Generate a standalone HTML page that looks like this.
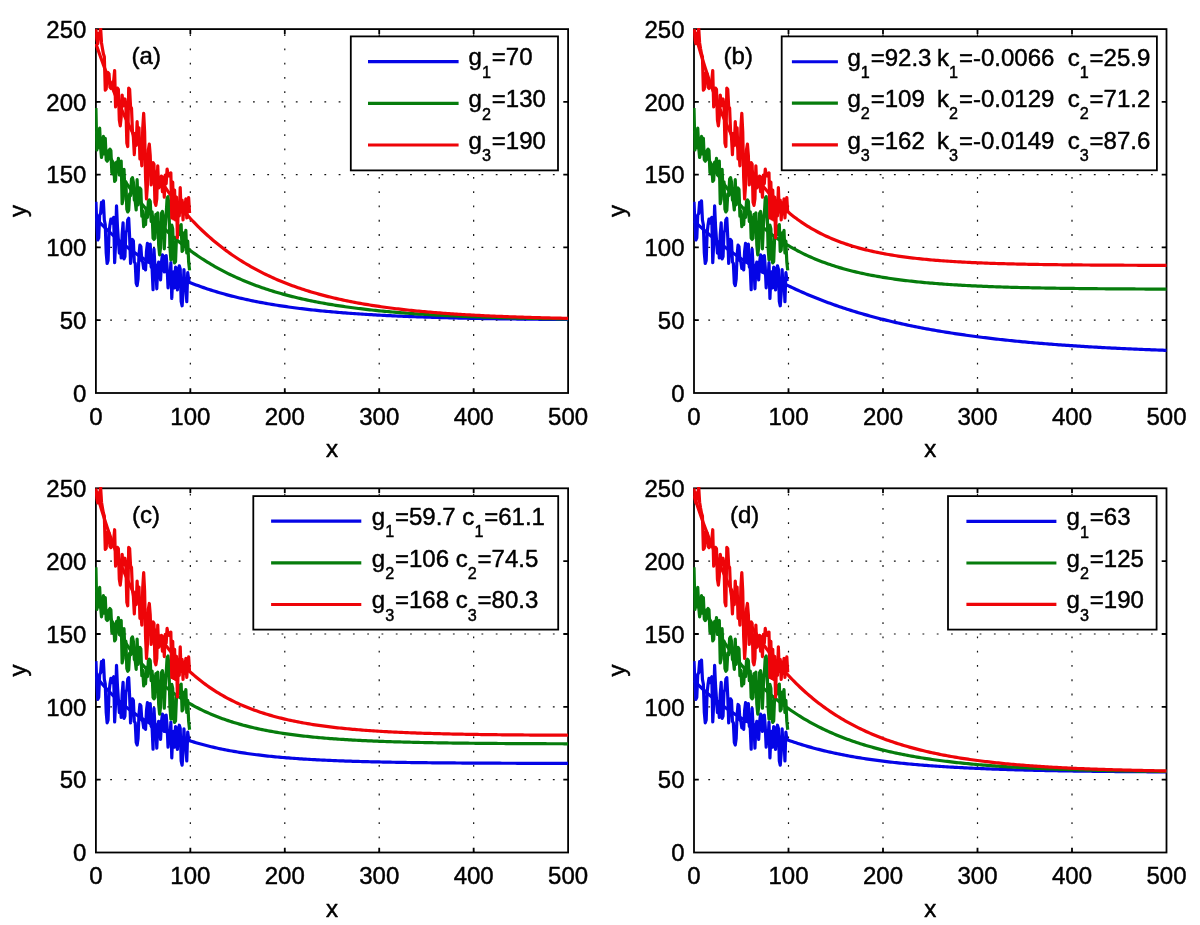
<!DOCTYPE html>
<html><head><meta charset="utf-8"><title>fit</title>
<style>
html,body{margin:0;padding:0;background:#fff}
svg{display:block}
text{font-family:"Liberation Sans",Arial,Helvetica,sans-serif;font-size:24.0px;fill:#000;stroke:#000;stroke-width:0.45px;stroke-linejoin:round}
.gr{stroke:#111;stroke-width:1.2;stroke-dasharray:1.8 12.48;fill:none}
.ax{stroke:#000;stroke-width:1.8;fill:none}
.lg{stroke:#000;stroke-width:1.8;fill:#fff}
.tk{stroke:#000;stroke-width:1.8;fill:none}
.cv{fill:none;stroke-width:3.2;stroke-linejoin:round;stroke-linecap:butt}
</style></head><body>
<svg width="1200" height="925" viewBox="0 0 1200 925">
<rect width="1200" height="925" fill="#fff"/>
<defs>
<clipPath id="cpa"><rect x="95.1" y="27.9" width="473.8" height="366.3"/></clipPath>
<clipPath id="cpb"><rect x="693.2" y="27.9" width="474.1" height="366.3"/></clipPath>
<clipPath id="cpc"><rect x="95.1" y="487.1" width="473.8" height="366.6"/></clipPath>
<clipPath id="cpd"><rect x="693.2" y="487.1" width="474.1" height="366.6"/></clipPath>
</defs>
<g>
<line x1="190.34" y1="393" x2="190.34" y2="29.1" class="gr"/>
<line x1="284.78" y1="393" x2="284.78" y2="29.1" class="gr"/>
<line x1="379.22" y1="393" x2="379.22" y2="29.1" class="gr"/>
<line x1="473.66" y1="393" x2="473.66" y2="29.1" class="gr"/>
<line x1="95.9" y1="320.22" x2="568.1" y2="320.22" class="gr"/>
<line x1="95.9" y1="247.44" x2="568.1" y2="247.44" class="gr"/>
<line x1="95.9" y1="174.66" x2="568.1" y2="174.66" class="gr"/>
<line x1="95.9" y1="101.88" x2="568.1" y2="101.88" class="gr"/>
<rect x="95.9" y="29.1" width="472.2" height="363.9" class="ax"/>
<path d="M190.34 393v-4.8M190.34 29.1v4.8" class="tk"/>
<path d="M284.78 393v-4.8M284.78 29.1v4.8" class="tk"/>
<path d="M379.22 393v-4.8M379.22 29.1v4.8" class="tk"/>
<path d="M473.66 393v-4.8M473.66 29.1v4.8" class="tk"/>
<path d="M95.9 320.22h4.8M568.1 320.22h-4.8" class="tk"/>
<path d="M95.9 247.44h4.8M568.1 247.44h-4.8" class="tk"/>
<path d="M95.9 174.66h4.8M568.1 174.66h-4.8" class="tk"/>
<path d="M95.9 101.88h4.8M568.1 101.88h-4.8" class="tk"/>
<g clip-path="url(#cpa)">
<polyline points="95.9,218.33 97.79,220.35 99.68,222.32 101.57,224.26 103.46,226.16 105.34,228.02 107.23,229.85 109.12,231.64 111.01,233.39 112.9,235.11 114.79,236.8 116.68,238.45 118.57,240.07 120.45,241.66 122.34,243.21 124.23,244.74 126.12,246.23 128.01,247.7 129.9,249.13 131.79,250.54 133.68,251.92 135.56,253.27 137.45,254.6 139.34,255.9 141.23,257.17 143.12,258.42 145.01,259.64 146.9,260.84 148.79,262.02 150.68,263.17 152.56,264.3 154.45,265.41 156.34,266.49 158.23,267.56 160.12,268.6 162.01,269.62 163.9,270.62 165.79,271.61 167.67,272.57 169.56,273.51 171.45,274.44 173.34,275.34 175.23,276.23 177.12,277.1 179.01,277.96 180.9,278.79 182.78,279.61 184.67,280.42 186.56,281.21 188.45,281.98 190.34,282.74 192.23,283.48 194.12,284.21 196.01,284.92 197.9,285.62 199.78,286.3 201.67,286.97 203.56,287.63 205.45,288.28 207.34,288.91 209.23,289.53 211.12,290.14 213.01,290.73 214.89,291.32 216.78,291.89 218.67,292.45 220.56,293 222.45,293.54 224.34,294.07 226.23,294.59 228.12,295.09 230,295.59 231.89,296.08 233.78,296.56 235.67,297.03 237.56,297.48 239.45,297.94 241.34,298.38 243.23,298.81 245.12,299.23 247,299.65 248.89,300.06 250.78,300.45 252.67,300.85 254.56,301.23 256.45,301.61 258.34,301.97 260.23,302.34 262.11,302.69 264,303.04 265.89,303.38 267.78,303.71 269.67,304.04 271.56,304.36 273.45,304.67 275.34,304.98 277.22,305.28 279.11,305.58 281,305.87 282.89,306.15 284.78,306.43 286.67,306.7 288.56,306.97 290.45,307.23 292.34,307.49 294.22,307.74 296.11,307.99 298,308.23 299.89,308.47 301.78,308.7 303.67,308.93 305.56,309.15 307.45,309.37 309.33,309.59 311.22,309.8 313.11,310 315,310.21 316.89,310.4 318.78,310.6 320.67,310.79 322.56,310.98 324.44,311.16 326.33,311.34 328.22,311.51 330.11,311.69 332,311.86 333.89,312.02 335.78,312.18 337.67,312.34 339.56,312.5 341.44,312.65 343.33,312.8 345.22,312.95 347.11,313.09 349,313.23 350.89,313.37 352.78,313.51 354.67,313.64 356.55,313.77 358.44,313.9 360.33,314.02 362.22,314.15 364.11,314.27 366,314.38 367.89,314.5 369.78,314.61 371.66,314.72 373.55,314.83 375.44,314.94 377.33,315.04 379.22,315.15 381.11,315.25 383,315.35 384.89,315.44 386.78,315.54 388.66,315.63 390.55,315.72 392.44,315.81 394.33,315.9 396.22,315.98 398.11,316.07 400,316.15 401.89,316.23 403.77,316.31 405.66,316.39 407.55,316.46 409.44,316.54 411.33,316.61 413.22,316.68 415.11,316.75 417,316.82 418.88,316.89 420.77,316.95 422.66,317.02 424.55,317.08 426.44,317.14 428.33,317.2 430.22,317.26 432.11,317.32 434,317.38 435.88,317.44 437.77,317.49 439.66,317.55 441.55,317.6 443.44,317.65 445.33,317.7 447.22,317.75 449.11,317.8 450.99,317.85 452.88,317.89 454.77,317.94 456.66,317.99 458.55,318.03 460.44,318.07 462.33,318.12 464.22,318.16 466.1,318.2 467.99,318.24 469.88,318.28 471.77,318.32 473.66,318.35 475.55,318.39 477.44,318.43 479.33,318.46 481.22,318.5 483.1,318.53 484.99,318.56 486.88,318.6 488.77,318.63 490.66,318.66 492.55,318.69 494.44,318.72 496.33,318.75 498.21,318.78 500.1,318.81 501.99,318.84 503.88,318.86 505.77,318.89 507.66,318.92 509.55,318.94 511.44,318.97 513.32,318.99 515.21,319.02 517.1,319.04 518.99,319.07 520.88,319.09 522.77,319.11 524.66,319.13 526.55,319.15 528.44,319.18 530.32,319.2 532.21,319.22 534.1,319.24 535.99,319.26 537.88,319.27 539.77,319.29 541.66,319.31 543.55,319.33 545.43,319.35 547.32,319.36 549.21,319.38 551.1,319.4 552.99,319.41 554.88,319.43 556.77,319.45 558.66,319.46 560.54,319.48 562.43,319.49 564.32,319.51 566.21,319.52 568.1,319.53" class="cv" stroke="#0505e6"/>
<polyline points="95.9,130.99 97.79,134.74 99.68,138.41 101.57,142.01 103.46,145.54 105.34,149 107.23,152.39 109.12,155.71 111.01,158.97 112.9,162.16 114.79,165.29 116.68,168.36 118.57,171.37 120.45,174.32 122.34,177.2 124.23,180.04 126.12,182.81 128.01,185.53 129.9,188.2 131.79,190.81 133.68,193.38 135.56,195.89 137.45,198.35 139.34,200.76 141.23,203.13 143.12,205.45 145.01,207.72 146.9,209.95 148.79,212.13 150.68,214.27 152.56,216.37 154.45,218.43 156.34,220.44 158.23,222.42 160.12,224.35 162.01,226.25 163.9,228.11 165.79,229.94 167.67,231.72 169.56,233.48 171.45,235.19 173.34,236.88 175.23,238.53 177.12,240.15 179.01,241.73 180.9,243.29 182.78,244.81 184.67,246.3 186.56,247.77 188.45,249.2 190.34,250.61 192.23,251.99 194.12,253.34 196.01,254.66 197.9,255.96 199.78,257.23 201.67,258.48 203.56,259.7 205.45,260.9 207.34,262.07 209.23,263.23 211.12,264.35 213.01,265.46 214.89,266.54 216.78,267.61 218.67,268.65 220.56,269.67 222.45,270.67 224.34,271.65 226.23,272.61 228.12,273.56 230,274.48 231.89,275.39 233.78,276.27 235.67,277.14 237.56,278 239.45,278.83 241.34,279.65 243.23,280.46 245.12,281.24 247,282.02 248.89,282.77 250.78,283.51 252.67,284.24 254.56,284.95 256.45,285.65 258.34,286.34 260.23,287.01 262.11,287.66 264,288.31 265.89,288.94 267.78,289.56 269.67,290.17 271.56,290.76 273.45,291.35 275.34,291.92 277.22,292.48 279.11,293.03 281,293.57 282.89,294.09 284.78,294.61 286.67,295.12 288.56,295.61 290.45,296.1 292.34,296.58 294.22,297.05 296.11,297.51 298,297.96 299.89,298.4 301.78,298.83 303.67,299.25 305.56,299.67 307.45,300.08 309.33,300.47 311.22,300.86 313.11,301.25 315,301.62 316.89,301.99 318.78,302.35 320.67,302.71 322.56,303.05 324.44,303.39 326.33,303.73 328.22,304.05 330.11,304.37 332,304.69 333.89,304.99 335.78,305.3 337.67,305.59 339.56,305.88 341.44,306.17 343.33,306.44 345.22,306.72 347.11,306.98 349,307.25 350.89,307.5 352.78,307.75 354.67,308 356.55,308.24 358.44,308.48 360.33,308.71 362.22,308.94 364.11,309.16 366,309.38 367.89,309.6 369.78,309.81 371.66,310.01 373.55,310.22 375.44,310.41 377.33,310.61 379.22,310.8 381.11,310.99 383,311.17 384.89,311.35 386.78,311.52 388.66,311.7 390.55,311.86 392.44,312.03 394.33,312.19 396.22,312.35 398.11,312.51 400,312.66 401.89,312.81 403.77,312.96 405.66,313.1 407.55,313.24 409.44,313.38 411.33,313.51 413.22,313.65 415.11,313.78 417,313.9 418.88,314.03 420.77,314.15 422.66,314.27 424.55,314.39 426.44,314.51 428.33,314.62 430.22,314.73 432.11,314.84 434,314.95 435.88,315.05 437.77,315.15 439.66,315.25 441.55,315.35 443.44,315.45 445.33,315.54 447.22,315.63 449.11,315.73 450.99,315.81 452.88,315.9 454.77,315.99 456.66,316.07 458.55,316.15 460.44,316.23 462.33,316.31 464.22,316.39 466.1,316.47 467.99,316.54 469.88,316.61 471.77,316.68 473.66,316.75 475.55,316.82 477.44,316.89 479.33,316.96 481.22,317.02 483.1,317.08 484.99,317.15 486.88,317.21 488.77,317.27 490.66,317.33 492.55,317.38 494.44,317.44 496.33,317.49 498.21,317.55 500.1,317.6 501.99,317.65 503.88,317.7 505.77,317.75 507.66,317.8 509.55,317.85 511.44,317.9 513.32,317.94 515.21,317.99 517.1,318.03 518.99,318.08 520.88,318.12 522.77,318.16 524.66,318.2 526.55,318.24 528.44,318.28 530.32,318.32 532.21,318.36 534.1,318.39 535.99,318.43 537.88,318.46 539.77,318.5 541.66,318.53 543.55,318.57 545.43,318.6 547.32,318.63 549.21,318.66 551.1,318.69 552.99,318.72 554.88,318.75 556.77,318.78 558.66,318.81 560.54,318.84 562.43,318.87 564.32,318.89 566.21,318.92 568.1,318.94" class="cv" stroke="#067c0c"/>
<polyline points="95.9,43.66 97.79,49.13 99.68,54.5 101.57,59.76 103.46,64.92 105.34,69.97 107.23,74.93 109.12,79.79 111.01,84.55 112.9,89.21 114.79,93.79 116.68,98.27 118.57,102.67 120.45,106.97 122.34,111.2 124.23,115.34 126.12,119.39 128.01,123.37 129.9,127.27 131.79,131.09 133.68,134.83 135.56,138.5 137.45,142.1 139.34,145.63 141.23,149.09 143.12,152.48 145.01,155.8 146.9,159.05 148.79,162.24 150.68,165.37 152.56,168.44 154.45,171.44 156.34,174.39 158.23,177.28 160.12,180.11 162.01,182.88 163.9,185.6 165.79,188.27 167.67,190.88 169.56,193.44 171.45,195.95 173.34,198.41 175.23,200.82 177.12,203.19 179.01,205.51 180.9,207.78 182.78,210 184.67,212.19 186.56,214.33 188.45,216.42 190.34,218.48 192.23,220.49 194.12,222.47 196.01,224.4 197.9,226.3 199.78,228.16 201.67,229.98 203.56,231.77 205.45,233.52 207.34,235.24 209.23,236.92 211.12,238.57 213.01,240.19 214.89,241.77 216.78,243.32 218.67,244.85 220.56,246.34 222.45,247.8 224.34,249.24 226.23,250.64 228.12,252.02 230,253.37 231.89,254.69 233.78,255.99 235.67,257.26 237.56,258.51 239.45,259.73 241.34,260.93 243.23,262.1 245.12,263.25 247,264.38 248.89,265.49 250.78,266.57 252.67,267.63 254.56,268.68 256.45,269.7 258.34,270.7 260.23,271.68 262.11,272.64 264,273.58 265.89,274.5 267.78,275.41 269.67,276.3 271.56,277.17 273.45,278.02 275.34,278.85 277.22,279.67 279.11,280.48 281,281.26 282.89,282.04 284.78,282.79 286.67,283.53 288.56,284.26 290.45,284.97 292.34,285.67 294.22,286.35 296.11,287.02 298,287.68 299.89,288.33 301.78,288.96 303.67,289.58 305.56,290.18 307.45,290.78 309.33,291.36 311.22,291.93 313.11,292.49 315,293.04 316.89,293.58 318.78,294.11 320.67,294.62 322.56,295.13 324.44,295.63 326.33,296.11 328.22,296.59 330.11,297.06 332,297.52 333.89,297.97 335.78,298.41 337.67,298.84 339.56,299.26 341.44,299.68 343.33,300.09 345.22,300.48 347.11,300.87 349,301.26 350.89,301.63 352.78,302 354.67,302.36 356.55,302.72 358.44,303.06 360.33,303.4 362.22,303.74 364.11,304.06 366,304.38 367.89,304.7 369.78,305 371.66,305.3 373.55,305.6 375.44,305.89 377.33,306.17 379.22,306.45 381.11,306.72 383,306.99 384.89,307.25 386.78,307.51 388.66,307.76 390.55,308.01 392.44,308.25 394.33,308.49 396.22,308.72 398.11,308.95 400,309.17 401.89,309.39 403.77,309.6 405.66,309.81 407.55,310.02 409.44,310.22 411.33,310.42 413.22,310.61 415.11,310.8 417,310.99 418.88,311.17 420.77,311.35 422.66,311.53 424.55,311.7 426.44,311.87 428.33,312.03 430.22,312.2 432.11,312.35 434,312.51 435.88,312.66 437.77,312.81 439.66,312.96 441.55,313.1 443.44,313.24 445.33,313.38 447.22,313.52 449.11,313.65 450.99,313.78 452.88,313.91 454.77,314.03 456.66,314.16 458.55,314.28 460.44,314.39 462.33,314.51 464.22,314.62 466.1,314.73 467.99,314.84 469.88,314.95 471.77,315.05 473.66,315.15 475.55,315.25 477.44,315.35 479.33,315.45 481.22,315.54 483.1,315.64 484.99,315.73 486.88,315.82 488.77,315.9 490.66,315.99 492.55,316.07 494.44,316.15 496.33,316.24 498.21,316.31 500.1,316.39 501.99,316.47 503.88,316.54 505.77,316.61 507.66,316.69 509.55,316.76 511.44,316.82 513.32,316.89 515.21,316.96 517.1,317.02 518.99,317.09 520.88,317.15 522.77,317.21 524.66,317.27 526.55,317.33 528.44,317.38 530.32,317.44 532.21,317.5 534.1,317.55 535.99,317.6 537.88,317.65 539.77,317.7 541.66,317.75 543.55,317.8 545.43,317.85 547.32,317.9 549.21,317.94 551.1,317.99 552.99,318.03 554.88,318.08 556.77,318.12 558.66,318.16 560.54,318.2 562.43,318.24 564.32,318.28 566.21,318.32 568.1,318.36" class="cv" stroke="#ee0408"/>
<polyline points="95.9,201.8 96.84,225.61 97.77,240 98.71,237.92 99.65,215 100.58,213.54 101.52,202.26 102.46,211.96 103.39,200.8 104.33,219.99 105.27,224.7 106.21,252.96 107.14,263.5 108.08,260.52 109.02,233.24 109.95,224.7 110.89,219.01 111.83,223.24 112.76,218.86 113.7,217.4 114.64,262.6 115.57,243.99 116.51,205.9 117.45,226.61 118.38,240 119.32,253.2 120.26,242.58 121.19,258 122.13,234.98 123.07,222.9 124.01,258.9 124.94,256.66 125.88,232 126.82,230.54 127.75,219.76 128.69,218.3 129.63,237.06 130.56,263.5 131.5,243.53 132.44,239.5 133.37,240.96 134.31,262 135.25,263.46 136.18,283.11 137.12,285.6 138.06,279.12 138.99,254.73 139.93,245.1 140.87,246.56 141.81,260.54 142.74,262 143.68,268.44 144.62,263.46 145.55,269.9 146.49,251.11 147.43,243.3 148.36,262 149.3,258.49 150.24,244.2 151.17,266.69 152.11,268.57 153.05,289.7 153.98,249 154.92,266.08 155.86,265.19 156.79,288.8 157.73,267.31 158.67,262 159.61,263.46 160.54,280 161.48,262.27 162.42,254.8 163.35,256.26 164.29,272 165.23,257.16 166.16,255.7 167.1,267.14 168.04,287.8 168.97,273.1 169.91,280.42 170.85,262.6 171.78,298.4 172.72,275.87 173.66,272 174.59,287.8 175.53,267.2 176.47,268.66 177.41,290 178.34,270.88 179.28,265.8 180.22,268.85 181.15,301.47 182.09,305.8 183.03,293.72 183.96,269.5 184.9,288.54 185.84,280.2 186.77,301.6 187.71,272.7 188.65,279.54 189.58,281" class="cv" stroke="#0505e6"/>
<polyline points="95.9,108 96.84,150 97.77,130.24 98.71,147.68 99.65,128 100.58,147.25 101.52,157.5 102.46,151.7 103.39,136.4 104.33,153.96 105.27,138.32 106.21,159.74 107.14,161.2 108.08,159.74 109.02,150.66 109.95,149.2 110.89,150.66 111.83,172.54 112.76,174 113.7,165 114.64,181.5 115.57,180.04 116.51,162.15 117.45,171.64 118.38,158.4 119.32,175 120.26,162.66 121.19,161.2 122.13,203.6 123.07,199.26 124.01,169.4 124.94,192.39 125.88,181.85 126.82,209.2 127.75,211.9 128.69,210.44 129.63,193.86 130.56,195.56 131.5,179.06 132.44,177.6 133.37,181.99 134.31,200 135.25,201.46 136.18,210 137.12,179.7 138.06,205 138.99,189.46 139.93,188 140.87,189.46 141.81,216.24 142.74,210.87 143.68,226.6 144.62,217.94 145.55,224.57 146.49,208.04 147.43,217.3 148.36,201.36 149.3,199.9 150.24,201.36 151.17,221.34 152.11,211.79 153.05,238.04 153.98,239.5 154.92,238.04 155.86,214.26 156.79,230.2 157.73,212.8 158.67,244.76 159.61,254.8 160.54,247.45 161.48,213.22 162.42,211.4 163.35,217.63 164.29,248.8 165.23,226.48 166.16,215 167.1,198.16 168.04,196.7 168.97,207.43 169.91,246.83 170.85,259.8 171.78,225 172.72,228.99 173.66,258.65 174.59,263 175.53,261.54 176.47,237.46 177.41,236 178.34,226.16 179.28,234.54 180.22,226.16 181.15,224.7 182.09,251.5 183.03,250.04 183.96,232.84 184.9,244.6 185.84,230.3 186.77,252.97 187.71,241.06 188.65,262 189.58,270.4" class="cv" stroke="#067c0c"/>
<polyline points="95.9,29.1 96.84,39.29 97.77,43.66 98.71,33.47 99.65,36.38 100.58,27.64 101.52,42.93 102.46,48.75 103.39,53.85 104.33,56.76 105.27,90.24 106.21,88.78 107.14,73.96 108.08,72.5 109.02,73.96 109.95,87.04 110.89,88.5 111.83,87.04 112.76,82 113.7,80.54 114.64,70.5 115.57,107 116.51,93.01 117.45,88 118.38,89.46 119.32,120.06 120.26,125.8 121.19,117.02 122.13,95 123.07,106 124.01,100.46 124.94,99 125.88,105.95 126.82,143.07 127.75,146.5 128.69,88 129.63,89.46 130.56,106.54 131.5,108 132.44,131 133.37,137.04 134.31,154.7 135.25,133.23 136.18,145.41 137.12,121.7 138.06,139.91 138.99,127.85 139.93,158.98 140.87,152 141.81,165.8 142.74,127.95 143.68,113.4 144.62,131.89 145.55,177.73 146.49,199 147.43,185.4 148.36,149.78 149.3,144.2 150.24,155.69 151.17,185 152.11,164.06 153.05,162.6 153.98,164.06 154.92,202.36 155.86,205.4 156.79,198.82 157.73,165.8 158.67,188 159.61,177.46 160.54,186.54 161.48,176 162.42,191.7 163.35,177.46 164.29,197.2 165.23,175.02 166.16,183.77 167.1,169.1 168.04,174.54 168.97,176 169.91,174.54 170.85,172.8 171.78,218 172.72,182 173.66,219 174.59,190 175.53,220 176.47,197 177.41,237.6 178.34,203 179.28,216 180.22,187.5 181.15,212 182.09,200 183.03,220 183.96,203 184.9,214 185.84,198.9 186.77,218 187.71,205 188.65,197.5 189.58,213" class="cv" stroke="#ee0408"/>
</g>
<text x="95.9" y="424.5" text-anchor="middle">0</text>
<text x="190.34" y="424.5" text-anchor="middle">100</text>
<text x="284.78" y="424.5" text-anchor="middle">200</text>
<text x="379.22" y="424.5" text-anchor="middle">300</text>
<text x="473.66" y="424.5" text-anchor="middle">400</text>
<text x="568.1" y="424.5" text-anchor="middle">500</text>
<text x="86.4" y="401.8" text-anchor="end">0</text>
<text x="86.4" y="329.02" text-anchor="end">50</text>
<text x="86.4" y="256.24" text-anchor="end">100</text>
<text x="86.4" y="183.46" text-anchor="end">150</text>
<text x="86.4" y="110.68" text-anchor="end">200</text>
<text x="86.4" y="37.9" text-anchor="end">250</text>
<text x="332" y="457.1" text-anchor="middle">x</text>
<text transform="translate(26.4 211.05) rotate(-90)" text-anchor="middle">y</text>
</g>
<g>
<line x1="788.5" y1="393" x2="788.5" y2="29.1" class="gr"/>
<line x1="883" y1="393" x2="883" y2="29.1" class="gr"/>
<line x1="977.5" y1="393" x2="977.5" y2="29.1" class="gr"/>
<line x1="1072" y1="393" x2="1072" y2="29.1" class="gr"/>
<line x1="694" y1="320.22" x2="1166.5" y2="320.22" class="gr"/>
<line x1="694" y1="247.44" x2="1166.5" y2="247.44" class="gr"/>
<line x1="694" y1="174.66" x2="1166.5" y2="174.66" class="gr"/>
<line x1="694" y1="101.88" x2="1166.5" y2="101.88" class="gr"/>
<rect x="694" y="29.1" width="472.5" height="363.9" class="ax"/>
<path d="M788.5 393v-4.8M788.5 29.1v4.8" class="tk"/>
<path d="M883 393v-4.8M883 29.1v4.8" class="tk"/>
<path d="M977.5 393v-4.8M977.5 29.1v4.8" class="tk"/>
<path d="M1072 393v-4.8M1072 29.1v4.8" class="tk"/>
<path d="M694 320.22h4.8M1166.5 320.22h-4.8" class="tk"/>
<path d="M694 247.44h4.8M1166.5 247.44h-4.8" class="tk"/>
<path d="M694 174.66h4.8M1166.5 174.66h-4.8" class="tk"/>
<path d="M694 101.88h4.8M1166.5 101.88h-4.8" class="tk"/>
<g clip-path="url(#cpb)">
<polyline points="694,220.95 695.89,222.71 697.78,224.45 699.67,226.16 701.56,227.86 703.45,229.53 705.34,231.18 707.23,232.81 709.12,234.41 711.01,236 712.9,237.56 714.79,239.11 716.68,240.63 718.57,242.13 720.46,243.62 722.35,245.08 724.24,246.53 726.13,247.95 728.02,249.36 729.91,250.75 731.8,252.12 733.69,253.47 735.58,254.81 737.47,256.13 739.36,257.43 741.25,258.71 743.14,259.98 745.03,261.23 746.92,262.46 748.81,263.68 750.7,264.88 752.59,266.07 754.48,267.24 756.37,268.39 758.26,269.53 760.15,270.66 762.04,271.77 763.93,272.86 765.82,273.94 767.71,275.01 769.6,276.06 771.49,277.1 773.38,278.13 775.27,279.14 777.16,280.14 779.05,281.12 780.94,282.1 782.83,283.06 784.72,284 786.61,284.94 788.5,285.86 790.39,286.77 792.28,287.67 794.17,288.56 796.06,289.43 797.95,290.3 799.84,291.15 801.73,291.99 803.62,292.82 805.51,293.64 807.4,294.45 809.29,295.24 811.18,296.03 813.07,296.81 814.96,297.58 816.85,298.33 818.74,299.08 820.63,299.82 822.52,300.55 824.41,301.26 826.3,301.97 828.19,302.67 830.08,303.36 831.97,304.04 833.86,304.71 835.75,305.38 837.64,306.03 839.53,306.68 841.42,307.32 843.31,307.95 845.2,308.57 847.09,309.18 848.98,309.78 850.87,310.38 852.76,310.97 854.65,311.55 856.54,312.12 858.43,312.69 860.32,313.25 862.21,313.8 864.1,314.35 865.99,314.88 867.88,315.41 869.77,315.94 871.66,316.45 873.55,316.96 875.44,317.46 877.33,317.96 879.22,318.45 881.11,318.93 883,319.41 884.89,319.88 886.78,320.34 888.67,320.8 890.56,321.26 892.45,321.7 894.34,322.14 896.23,322.58 898.12,323.01 900.01,323.43 901.9,323.85 903.79,324.26 905.68,324.67 907.57,325.07 909.46,325.47 911.35,325.86 913.24,326.24 915.13,326.62 917.02,327 918.91,327.37 920.8,327.74 922.69,328.1 924.58,328.46 926.47,328.81 928.36,329.15 930.25,329.5 932.14,329.84 934.03,330.17 935.92,330.5 937.81,330.82 939.7,331.15 941.59,331.46 943.48,331.77 945.37,332.08 947.26,332.39 949.15,332.69 951.04,332.98 952.93,333.28 954.82,333.57 956.71,333.85 958.6,334.13 960.49,334.41 962.38,334.68 964.27,334.95 966.16,335.22 968.05,335.48 969.94,335.74 971.83,336 973.72,336.25 975.61,336.5 977.5,336.75 979.39,336.99 981.28,337.23 983.17,337.47 985.06,337.7 986.95,337.93 988.84,338.16 990.73,338.39 992.62,338.61 994.51,338.83 996.4,339.04 998.29,339.26 1000.18,339.47 1002.07,339.68 1003.96,339.88 1005.85,340.08 1007.74,340.28 1009.63,340.48 1011.52,340.67 1013.41,340.86 1015.3,341.05 1017.19,341.24 1019.08,341.43 1020.97,341.61 1022.86,341.79 1024.75,341.96 1026.64,342.14 1028.53,342.31 1030.42,342.48 1032.31,342.65 1034.2,342.82 1036.09,342.98 1037.98,343.14 1039.87,343.3 1041.76,343.46 1043.65,343.61 1045.54,343.77 1047.43,343.92 1049.32,344.07 1051.21,344.21 1053.1,344.36 1054.99,344.5 1056.88,344.64 1058.77,344.78 1060.66,344.92 1062.55,345.06 1064.44,345.19 1066.33,345.33 1068.22,345.46 1070.11,345.59 1072,345.71 1073.89,345.84 1075.78,345.96 1077.67,346.08 1079.56,346.21 1081.45,346.32 1083.34,346.44 1085.23,346.56 1087.12,346.67 1089.01,346.79 1090.9,346.9 1092.79,347.01 1094.68,347.12 1096.57,347.22 1098.46,347.33 1100.35,347.43 1102.24,347.54 1104.13,347.64 1106.02,347.74 1107.91,347.84 1109.8,347.94 1111.69,348.03 1113.58,348.13 1115.47,348.22 1117.36,348.32 1119.25,348.41 1121.14,348.5 1123.03,348.59 1124.92,348.67 1126.81,348.76 1128.7,348.85 1130.59,348.93 1132.48,349.02 1134.37,349.1 1136.26,349.18 1138.15,349.26 1140.04,349.34 1141.93,349.42 1143.82,349.49 1145.71,349.57 1147.6,349.65 1149.49,349.72 1151.38,349.79 1153.27,349.86 1155.16,349.94 1157.05,350.01 1158.94,350.08 1160.83,350.14 1162.72,350.21 1164.61,350.28 1166.5,350.34" class="cv" stroke="#0505e6"/>
<polyline points="694,130.7 695.89,134.74 697.78,138.68 699.67,142.52 701.56,146.26 703.45,149.9 705.34,153.45 707.23,156.92 709.12,160.29 711.01,163.58 712.9,166.78 714.79,169.9 716.68,172.95 718.57,175.91 720.46,178.8 722.35,181.62 724.24,184.36 726.13,187.04 728.02,189.64 729.91,192.18 731.8,194.66 733.69,197.07 735.58,199.42 737.47,201.71 739.36,203.94 741.25,206.12 743.14,208.24 745.03,210.3 746.92,212.32 748.81,214.28 750.7,216.19 752.59,218.06 754.48,219.87 756.37,221.64 758.26,223.37 760.15,225.05 762.04,226.69 763.93,228.28 765.82,229.84 767.71,231.35 769.6,232.83 771.49,234.27 773.38,235.67 775.27,237.04 777.16,238.37 779.05,239.67 780.94,240.94 782.83,242.17 784.72,243.37 786.61,244.55 788.5,245.69 790.39,246.8 792.28,247.88 794.17,248.94 796.06,249.97 797.95,250.97 799.84,251.95 801.73,252.9 803.62,253.83 805.51,254.74 807.4,255.62 809.29,256.48 811.18,257.32 813.07,258.13 814.96,258.93 816.85,259.7 818.74,260.46 820.63,261.19 822.52,261.91 824.41,262.61 826.3,263.29 828.19,263.96 830.08,264.6 831.97,265.23 833.86,265.85 835.75,266.45 837.64,267.03 839.53,267.6 841.42,268.15 843.31,268.69 845.2,269.22 847.09,269.73 848.98,270.23 850.87,270.72 852.76,271.2 854.65,271.66 856.54,272.11 858.43,272.55 860.32,272.98 862.21,273.39 864.1,273.8 865.99,274.2 867.88,274.58 869.77,274.96 871.66,275.33 873.55,275.68 875.44,276.03 877.33,276.37 879.22,276.7 881.11,277.02 883,277.34 884.89,277.65 886.78,277.94 888.67,278.23 890.56,278.52 892.45,278.79 894.34,279.06 896.23,279.33 898.12,279.58 900.01,279.83 901.9,280.07 903.79,280.31 905.68,280.54 907.57,280.76 909.46,280.98 911.35,281.2 913.24,281.4 915.13,281.61 917.02,281.81 918.91,282 920.8,282.19 922.69,282.37 924.58,282.55 926.47,282.72 928.36,282.89 930.25,283.05 932.14,283.21 934.03,283.37 935.92,283.52 937.81,283.67 939.7,283.82 941.59,283.96 943.48,284.1 945.37,284.23 947.26,284.36 949.15,284.49 951.04,284.61 952.93,284.73 954.82,284.85 956.71,284.97 958.6,285.08 960.49,285.19 962.38,285.29 964.27,285.4 966.16,285.5 968.05,285.6 969.94,285.69 971.83,285.79 973.72,285.88 975.61,285.97 977.5,286.05 979.39,286.14 981.28,286.22 983.17,286.3 985.06,286.38 986.95,286.45 988.84,286.53 990.73,286.6 992.62,286.67 994.51,286.74 996.4,286.8 998.29,286.87 1000.18,286.93 1002.07,286.99 1003.96,287.06 1005.85,287.11 1007.74,287.17 1009.63,287.23 1011.52,287.28 1013.41,287.33 1015.3,287.39 1017.19,287.44 1019.08,287.49 1020.97,287.53 1022.86,287.58 1024.75,287.62 1026.64,287.67 1028.53,287.71 1030.42,287.75 1032.31,287.8 1034.2,287.84 1036.09,287.87 1037.98,287.91 1039.87,287.95 1041.76,287.98 1043.65,288.02 1045.54,288.05 1047.43,288.09 1049.32,288.12 1051.21,288.15 1053.1,288.18 1054.99,288.21 1056.88,288.24 1058.77,288.27 1060.66,288.3 1062.55,288.32 1064.44,288.35 1066.33,288.38 1068.22,288.4 1070.11,288.43 1072,288.45 1073.89,288.47 1075.78,288.5 1077.67,288.52 1079.56,288.54 1081.45,288.56 1083.34,288.58 1085.23,288.6 1087.12,288.62 1089.01,288.64 1090.9,288.66 1092.79,288.68 1094.68,288.69 1096.57,288.71 1098.46,288.73 1100.35,288.74 1102.24,288.76 1104.13,288.77 1106.02,288.79 1107.91,288.8 1109.8,288.82 1111.69,288.83 1113.58,288.84 1115.47,288.86 1117.36,288.87 1119.25,288.88 1121.14,288.9 1123.03,288.91 1124.92,288.92 1126.81,288.93 1128.7,288.94 1130.59,288.95 1132.48,288.96 1134.37,288.97 1136.26,288.98 1138.15,288.99 1140.04,289 1141.93,289.01 1143.82,289.02 1145.71,289.03 1147.6,289.04 1149.49,289.04 1151.38,289.05 1153.27,289.06 1155.16,289.07 1157.05,289.08 1158.94,289.08 1160.83,289.09 1162.72,289.1 1164.61,289.1 1166.5,289.11" class="cv" stroke="#067c0c"/>
<polyline points="694,29.68 695.89,36.61 697.78,43.33 699.67,49.85 701.56,56.18 703.45,62.33 705.34,68.29 707.23,74.08 709.12,79.7 711.01,85.15 712.9,90.45 714.79,95.59 716.68,100.58 718.57,105.42 720.46,110.12 722.35,114.68 724.24,119.11 726.13,123.41 728.02,127.58 729.91,131.63 731.8,135.56 733.69,139.37 735.58,143.07 737.47,146.67 739.36,150.16 741.25,153.54 743.14,156.83 745.03,160.02 746.92,163.12 748.81,166.12 750.7,169.04 752.59,171.87 754.48,174.62 756.37,177.29 758.26,179.88 760.15,182.39 762.04,184.83 763.93,187.2 765.82,189.5 767.71,191.73 769.6,193.9 771.49,196 773.38,198.04 775.27,200.02 777.16,201.94 779.05,203.81 780.94,205.62 782.83,207.37 784.72,209.08 786.61,210.74 788.5,212.34 790.39,213.91 792.28,215.42 794.17,216.89 796.06,218.32 797.95,219.7 799.84,221.05 801.73,222.35 803.62,223.62 805.51,224.85 807.4,226.04 809.29,227.2 811.18,228.32 813.07,229.41 814.96,230.47 816.85,231.5 818.74,232.5 820.63,233.47 822.52,234.41 824.41,235.32 826.3,236.21 828.19,237.07 830.08,237.9 831.97,238.71 833.86,239.5 835.75,240.26 837.64,241 839.53,241.72 841.42,242.42 843.31,243.09 845.2,243.75 847.09,244.39 848.98,245.01 850.87,245.61 852.76,246.2 854.65,246.76 856.54,247.31 858.43,247.85 860.32,248.36 862.21,248.87 864.1,249.35 865.99,249.83 867.88,250.29 869.77,250.73 871.66,251.17 873.55,251.59 875.44,252 877.33,252.39 879.22,252.78 881.11,253.15 883,253.51 884.89,253.86 886.78,254.21 888.67,254.54 890.56,254.86 892.45,255.17 894.34,255.47 896.23,255.77 898.12,256.05 900.01,256.33 901.9,256.6 903.79,256.86 905.68,257.11 907.57,257.36 909.46,257.6 911.35,257.83 913.24,258.05 915.13,258.27 917.02,258.48 918.91,258.69 920.8,258.89 922.69,259.08 924.58,259.27 926.47,259.45 928.36,259.63 930.25,259.8 932.14,259.97 934.03,260.13 935.92,260.29 937.81,260.44 939.7,260.59 941.59,260.73 943.48,260.87 945.37,261.01 947.26,261.14 949.15,261.27 951.04,261.39 952.93,261.51 954.82,261.63 956.71,261.74 958.6,261.85 960.49,261.96 962.38,262.06 964.27,262.16 966.16,262.26 968.05,262.36 969.94,262.45 971.83,262.54 973.72,262.62 975.61,262.71 977.5,262.79 979.39,262.87 981.28,262.95 983.17,263.02 985.06,263.09 986.95,263.16 988.84,263.23 990.73,263.3 992.62,263.36 994.51,263.43 996.4,263.49 998.29,263.54 1000.18,263.6 1002.07,263.66 1003.96,263.71 1005.85,263.76 1007.74,263.81 1009.63,263.86 1011.52,263.91 1013.41,263.96 1015.3,264 1017.19,264.05 1019.08,264.09 1020.97,264.13 1022.86,264.17 1024.75,264.21 1026.64,264.25 1028.53,264.28 1030.42,264.32 1032.31,264.35 1034.2,264.39 1036.09,264.42 1037.98,264.45 1039.87,264.48 1041.76,264.51 1043.65,264.54 1045.54,264.57 1047.43,264.59 1049.32,264.62 1051.21,264.65 1053.1,264.67 1054.99,264.69 1056.88,264.72 1058.77,264.74 1060.66,264.76 1062.55,264.78 1064.44,264.8 1066.33,264.82 1068.22,264.84 1070.11,264.86 1072,264.88 1073.89,264.9 1075.78,264.92 1077.67,264.93 1079.56,264.95 1081.45,264.97 1083.34,264.98 1085.23,265 1087.12,265.01 1089.01,265.02 1090.9,265.04 1092.79,265.05 1094.68,265.06 1096.57,265.08 1098.46,265.09 1100.35,265.1 1102.24,265.11 1104.13,265.12 1106.02,265.13 1107.91,265.14 1109.8,265.15 1111.69,265.16 1113.58,265.17 1115.47,265.18 1117.36,265.19 1119.25,265.2 1121.14,265.21 1123.03,265.22 1124.92,265.23 1126.81,265.23 1128.7,265.24 1130.59,265.25 1132.48,265.26 1134.37,265.26 1136.26,265.27 1138.15,265.28 1140.04,265.28 1141.93,265.29 1143.82,265.29 1145.71,265.3 1147.6,265.3 1149.49,265.31 1151.38,265.32 1153.27,265.32 1155.16,265.33 1157.05,265.33 1158.94,265.33 1160.83,265.34 1162.72,265.34 1164.61,265.35 1166.5,265.35" class="cv" stroke="#ee0408"/>
<polyline points="694,201.8 694.94,225.61 695.87,240 696.81,237.92 697.75,215 698.69,213.54 699.62,202.26 700.56,211.96 701.5,200.8 702.44,219.99 703.37,224.7 704.31,252.96 705.25,263.5 706.19,260.52 707.12,233.24 708.06,224.7 709,219.01 709.94,223.24 710.87,218.86 711.81,217.4 712.75,262.6 713.69,243.99 714.62,205.9 715.56,226.61 716.5,240 717.44,253.2 718.37,242.58 719.31,258 720.25,234.98 721.19,222.9 722.12,258.9 723.06,256.66 724,232 724.94,230.54 725.87,219.76 726.81,218.3 727.75,237.06 728.69,263.5 729.62,243.53 730.56,239.5 731.5,240.96 732.44,262 733.37,263.46 734.31,283.11 735.25,285.6 736.18,279.12 737.12,254.73 738.06,245.1 739,246.56 739.93,260.54 740.87,262 741.81,268.44 742.75,263.46 743.68,269.9 744.62,251.11 745.56,243.3 746.5,262 747.43,258.49 748.37,244.2 749.31,266.69 750.25,268.57 751.18,289.7 752.12,249 753.06,266.08 754,265.19 754.93,288.8 755.87,267.31 756.81,262 757.75,263.46 758.68,280 759.62,262.27 760.56,254.8 761.5,256.26 762.43,272 763.37,257.16 764.31,255.7 765.25,267.14 766.18,287.8 767.12,273.1 768.06,280.42 769,262.6 769.93,298.4 770.87,275.87 771.81,272 772.74,287.8 773.68,267.2 774.62,268.66 775.56,290 776.49,270.88 777.43,265.8 778.37,268.85 779.31,301.47 780.24,305.8 781.18,293.72 782.12,269.5 783.06,288.54 783.99,280.2 784.93,301.6 785.87,272.7 786.81,279.54 787.74,281" class="cv" stroke="#0505e6"/>
<polyline points="694,108 694.94,150 695.87,130.24 696.81,147.68 697.75,128 698.69,147.25 699.62,157.5 700.56,151.7 701.5,136.4 702.44,153.96 703.37,138.32 704.31,159.74 705.25,161.2 706.19,159.74 707.12,150.66 708.06,149.2 709,150.66 709.94,172.54 710.87,174 711.81,165 712.75,181.5 713.69,180.04 714.62,162.15 715.56,171.64 716.5,158.4 717.44,175 718.37,162.66 719.31,161.2 720.25,203.6 721.19,199.26 722.12,169.4 723.06,192.39 724,181.85 724.94,209.2 725.87,211.9 726.81,210.44 727.75,193.86 728.69,195.56 729.62,179.06 730.56,177.6 731.5,181.99 732.44,200 733.37,201.46 734.31,210 735.25,179.7 736.18,205 737.12,189.46 738.06,188 739,189.46 739.93,216.24 740.87,210.87 741.81,226.6 742.75,217.94 743.68,224.57 744.62,208.04 745.56,217.3 746.5,201.36 747.43,199.9 748.37,201.36 749.31,221.34 750.25,211.79 751.18,238.04 752.12,239.5 753.06,238.04 754,214.26 754.93,230.2 755.87,212.8 756.81,244.76 757.75,254.8 758.68,247.45 759.62,213.22 760.56,211.4 761.5,217.63 762.43,248.8 763.37,226.48 764.31,215 765.25,198.16 766.18,196.7 767.12,207.43 768.06,246.83 769,259.8 769.93,225 770.87,228.99 771.81,258.65 772.74,263 773.68,261.54 774.62,237.46 775.56,236 776.49,226.16 777.43,234.54 778.37,226.16 779.31,224.7 780.24,251.5 781.18,250.04 782.12,232.84 783.06,244.6 783.99,230.3 784.93,252.97 785.87,241.06 786.81,262 787.74,270.4" class="cv" stroke="#067c0c"/>
<polyline points="694,29.1 694.94,39.29 695.87,43.66 696.81,33.47 697.75,36.38 698.69,27.64 699.62,42.93 700.56,48.75 701.5,53.85 702.44,56.76 703.37,90.24 704.31,88.78 705.25,73.96 706.19,72.5 707.12,73.96 708.06,87.04 709,88.5 709.94,87.04 710.87,82 711.81,80.54 712.75,70.5 713.69,107 714.62,93.01 715.56,88 716.5,89.46 717.44,120.06 718.37,125.8 719.31,117.02 720.25,95 721.19,106 722.12,100.46 723.06,99 724,105.95 724.94,143.07 725.87,146.5 726.81,88 727.75,89.46 728.69,106.54 729.62,108 730.56,131 731.5,137.04 732.44,154.7 733.37,133.23 734.31,145.41 735.25,121.7 736.18,139.91 737.12,127.85 738.06,158.98 739,152 739.93,165.8 740.87,127.95 741.81,113.4 742.75,131.89 743.68,177.73 744.62,199 745.56,185.4 746.5,149.78 747.43,144.2 748.37,155.69 749.31,185 750.25,164.06 751.18,162.6 752.12,164.06 753.06,202.36 754,205.4 754.93,198.82 755.87,165.8 756.81,188 757.75,177.46 758.68,186.54 759.62,176 760.56,191.7 761.5,177.46 762.43,197.2 763.37,175.02 764.31,183.77 765.25,169.1 766.18,174.54 767.12,176 768.06,174.54 769,172.8 769.93,218 770.87,182 771.81,219 772.74,190 773.68,220 774.62,197 775.56,237.6 776.49,203 777.43,216 778.37,187.5 779.31,212 780.24,200 781.18,220 782.12,203 783.06,214 783.99,198.9 784.93,218 785.87,205 786.81,197.5 787.74,213" class="cv" stroke="#ee0408"/>
</g>
<text x="694" y="424.5" text-anchor="middle">0</text>
<text x="788.5" y="424.5" text-anchor="middle">100</text>
<text x="883" y="424.5" text-anchor="middle">200</text>
<text x="977.5" y="424.5" text-anchor="middle">300</text>
<text x="1072" y="424.5" text-anchor="middle">400</text>
<text x="1166.5" y="424.5" text-anchor="middle">500</text>
<text x="684.5" y="401.8" text-anchor="end">0</text>
<text x="684.5" y="329.02" text-anchor="end">50</text>
<text x="684.5" y="256.24" text-anchor="end">100</text>
<text x="684.5" y="183.46" text-anchor="end">150</text>
<text x="684.5" y="110.68" text-anchor="end">200</text>
<text x="684.5" y="37.9" text-anchor="end">250</text>
<text x="930.25" y="457.1" text-anchor="middle">x</text>
<text transform="translate(624.5 211.05) rotate(-90)" text-anchor="middle">y</text>
</g>
<g>
<line x1="190.34" y1="852.5" x2="190.34" y2="488.3" class="gr"/>
<line x1="284.78" y1="852.5" x2="284.78" y2="488.3" class="gr"/>
<line x1="379.22" y1="852.5" x2="379.22" y2="488.3" class="gr"/>
<line x1="473.66" y1="852.5" x2="473.66" y2="488.3" class="gr"/>
<line x1="95.9" y1="779.66" x2="568.1" y2="779.66" class="gr"/>
<line x1="95.9" y1="706.82" x2="568.1" y2="706.82" class="gr"/>
<line x1="95.9" y1="633.98" x2="568.1" y2="633.98" class="gr"/>
<line x1="95.9" y1="561.14" x2="568.1" y2="561.14" class="gr"/>
<rect x="95.9" y="488.3" width="472.2" height="364.2" class="ax"/>
<path d="M190.34 852.5v-4.8M190.34 488.3v4.8" class="tk"/>
<path d="M284.78 852.5v-4.8M284.78 488.3v4.8" class="tk"/>
<path d="M379.22 852.5v-4.8M379.22 488.3v4.8" class="tk"/>
<path d="M473.66 852.5v-4.8M473.66 488.3v4.8" class="tk"/>
<path d="M95.9 779.66h4.8M568.1 779.66h-4.8" class="tk"/>
<path d="M95.9 706.82h4.8M568.1 706.82h-4.8" class="tk"/>
<path d="M95.9 633.98h4.8M568.1 633.98h-4.8" class="tk"/>
<path d="M95.9 561.14h4.8M568.1 561.14h-4.8" class="tk"/>
<g clip-path="url(#cpc)">
<polyline points="95.9,676.52 97.79,678.84 99.68,681.09 101.57,683.29 103.46,685.42 105.34,687.5 107.23,689.53 109.12,691.5 111.01,693.41 112.9,695.28 114.79,697.1 116.68,698.87 118.57,700.59 120.45,702.26 122.34,703.89 124.23,705.48 126.12,707.03 128.01,708.53 129.9,710 131.79,711.42 133.68,712.81 135.56,714.16 137.45,715.47 139.34,716.75 141.23,718 143.12,719.21 145.01,720.39 146.9,721.54 148.79,722.65 150.68,723.74 152.56,724.8 154.45,725.83 156.34,726.83 158.23,727.81 160.12,728.76 162.01,729.69 163.9,730.59 165.79,731.46 167.67,732.32 169.56,733.15 171.45,733.95 173.34,734.74 175.23,735.51 177.12,736.25 179.01,736.98 180.9,737.68 182.78,738.37 184.67,739.04 186.56,739.69 188.45,740.33 190.34,740.94 192.23,741.54 194.12,742.13 196.01,742.7 197.9,743.25 199.78,743.79 201.67,744.32 203.56,744.83 205.45,745.32 207.34,745.81 209.23,746.28 211.12,746.74 213.01,747.18 214.89,747.62 216.78,748.04 218.67,748.45 220.56,748.85 222.45,749.24 224.34,749.62 226.23,749.99 228.12,750.35 230,750.7 231.89,751.04 233.78,751.37 235.67,751.7 237.56,752.01 239.45,752.32 241.34,752.61 243.23,752.9 245.12,753.19 247,753.46 248.89,753.73 250.78,753.99 252.67,754.24 254.56,754.49 256.45,754.73 258.34,754.96 260.23,755.19 262.11,755.41 264,755.62 265.89,755.83 267.78,756.04 269.67,756.24 271.56,756.43 273.45,756.62 275.34,756.8 277.22,756.98 279.11,757.15 281,757.32 282.89,757.48 284.78,757.64 286.67,757.8 288.56,757.95 290.45,758.1 292.34,758.24 294.22,758.38 296.11,758.52 298,758.65 299.89,758.78 301.78,758.91 303.67,759.03 305.56,759.15 307.45,759.26 309.33,759.37 311.22,759.48 313.11,759.59 315,759.69 316.89,759.8 318.78,759.89 320.67,759.99 322.56,760.08 324.44,760.17 326.33,760.26 328.22,760.35 330.11,760.43 332,760.51 333.89,760.59 335.78,760.67 337.67,760.75 339.56,760.82 341.44,760.89 343.33,760.96 345.22,761.03 347.11,761.09 349,761.16 350.89,761.22 352.78,761.28 354.67,761.34 356.55,761.39 358.44,761.45 360.33,761.5 362.22,761.56 364.11,761.61 366,761.66 367.89,761.71 369.78,761.76 371.66,761.8 373.55,761.85 375.44,761.89 377.33,761.93 379.22,761.97 381.11,762.01 383,762.05 384.89,762.09 386.78,762.13 388.66,762.17 390.55,762.2 392.44,762.24 394.33,762.27 396.22,762.3 398.11,762.33 400,762.36 401.89,762.39 403.77,762.42 405.66,762.45 407.55,762.48 409.44,762.51 411.33,762.53 413.22,762.56 415.11,762.58 417,762.61 418.88,762.63 420.77,762.65 422.66,762.68 424.55,762.7 426.44,762.72 428.33,762.74 430.22,762.76 432.11,762.78 434,762.8 435.88,762.82 437.77,762.83 439.66,762.85 441.55,762.87 443.44,762.88 445.33,762.9 447.22,762.92 449.11,762.93 450.99,762.95 452.88,762.96 454.77,762.97 456.66,762.99 458.55,763 460.44,763.01 462.33,763.03 464.22,763.04 466.1,763.05 467.99,763.06 469.88,763.07 471.77,763.09 473.66,763.1 475.55,763.11 477.44,763.12 479.33,763.13 481.22,763.14 483.1,763.15 484.99,763.16 486.88,763.16 488.77,763.17 490.66,763.18 492.55,763.19 494.44,763.2 496.33,763.21 498.21,763.21 500.1,763.22 501.99,763.23 503.88,763.23 505.77,763.24 507.66,763.25 509.55,763.25 511.44,763.26 513.32,763.27 515.21,763.27 517.1,763.28 518.99,763.28 520.88,763.29 522.77,763.29 524.66,763.3 526.55,763.31 528.44,763.31 530.32,763.31 532.21,763.32 534.1,763.32 535.99,763.33 537.88,763.33 539.77,763.34 541.66,763.34 543.55,763.34 545.43,763.35 547.32,763.35 549.21,763.36 551.1,763.36 552.99,763.36 554.88,763.37 556.77,763.37 558.66,763.37 560.54,763.38 562.43,763.38 564.32,763.38 566.21,763.38 568.1,763.39" class="cv" stroke="#0505e6"/>
<polyline points="95.9,589.55 97.79,593.66 99.68,597.67 101.57,601.56 103.46,605.36 105.34,609.05 107.23,612.64 109.12,616.14 111.01,619.55 112.9,622.86 114.79,626.09 116.68,629.23 118.57,632.28 120.45,635.26 122.34,638.15 124.23,640.97 126.12,643.72 128.01,646.39 129.9,648.99 131.79,651.52 133.68,653.98 135.56,656.38 137.45,658.71 139.34,660.98 141.23,663.19 143.12,665.34 145.01,667.44 146.9,669.48 148.79,671.46 150.68,673.39 152.56,675.27 154.45,677.1 156.34,678.88 158.23,680.62 160.12,682.31 162.01,683.95 163.9,685.55 165.79,687.1 167.67,688.62 169.56,690.09 171.45,691.53 173.34,692.92 175.23,694.28 177.12,695.61 179.01,696.9 180.9,698.15 182.78,699.37 184.67,700.56 186.56,701.72 188.45,702.84 190.34,703.94 192.23,705 194.12,706.04 196.01,707.05 197.9,708.03 199.78,708.99 201.67,709.92 203.56,710.83 205.45,711.71 207.34,712.57 209.23,713.41 211.12,714.22 213.01,715.02 214.89,715.79 216.78,716.54 218.67,717.27 220.56,717.98 222.45,718.67 224.34,719.35 226.23,720 228.12,720.64 230,721.26 231.89,721.87 233.78,722.45 235.67,723.03 237.56,723.59 239.45,724.13 241.34,724.66 243.23,725.17 245.12,725.67 247,726.16 248.89,726.63 250.78,727.1 252.67,727.55 254.56,727.98 256.45,728.41 258.34,728.82 260.23,729.23 262.11,729.62 264,730 265.89,730.37 267.78,730.74 269.67,731.09 271.56,731.43 273.45,731.77 275.34,732.09 277.22,732.41 279.11,732.71 281,733.01 282.89,733.31 284.78,733.59 286.67,733.87 288.56,734.14 290.45,734.4 292.34,734.65 294.22,734.9 296.11,735.14 298,735.38 299.89,735.61 301.78,735.83 303.67,736.05 305.56,736.26 307.45,736.46 309.33,736.66 311.22,736.86 313.11,737.05 315,737.23 316.89,737.41 318.78,737.59 320.67,737.76 322.56,737.92 324.44,738.08 326.33,738.24 328.22,738.39 330.11,738.54 332,738.68 333.89,738.83 335.78,738.96 337.67,739.1 339.56,739.23 341.44,739.35 343.33,739.47 345.22,739.59 347.11,739.71 349,739.82 350.89,739.93 352.78,740.04 354.67,740.15 356.55,740.25 358.44,740.35 360.33,740.44 362.22,740.54 364.11,740.63 366,740.72 367.89,740.8 369.78,740.89 371.66,740.97 373.55,741.05 375.44,741.13 377.33,741.2 379.22,741.28 381.11,741.35 383,741.42 384.89,741.49 386.78,741.55 388.66,741.62 390.55,741.68 392.44,741.74 394.33,741.8 396.22,741.86 398.11,741.91 400,741.97 401.89,742.02 403.77,742.07 405.66,742.12 407.55,742.17 409.44,742.22 411.33,742.27 413.22,742.31 415.11,742.36 417,742.4 418.88,742.44 420.77,742.48 422.66,742.52 424.55,742.56 426.44,742.6 428.33,742.64 430.22,742.67 432.11,742.71 434,742.74 435.88,742.77 437.77,742.8 439.66,742.83 441.55,742.86 443.44,742.89 445.33,742.92 447.22,742.95 449.11,742.98 450.99,743 452.88,743.03 454.77,743.05 456.66,743.08 458.55,743.1 460.44,743.13 462.33,743.15 464.22,743.17 466.1,743.19 467.99,743.21 469.88,743.23 471.77,743.25 473.66,743.27 475.55,743.29 477.44,743.31 479.33,743.33 481.22,743.34 483.1,743.36 484.99,743.38 486.88,743.39 488.77,743.41 490.66,743.42 492.55,743.44 494.44,743.45 496.33,743.46 498.21,743.48 500.1,743.49 501.99,743.5 503.88,743.52 505.77,743.53 507.66,743.54 509.55,743.55 511.44,743.56 513.32,743.57 515.21,743.58 517.1,743.59 518.99,743.6 520.88,743.61 522.77,743.62 524.66,743.63 526.55,743.64 528.44,743.65 530.32,743.66 532.21,743.67 534.1,743.67 535.99,743.68 537.88,743.69 539.77,743.7 541.66,743.7 543.55,743.71 545.43,743.72 547.32,743.73 549.21,743.73 551.1,743.74 552.99,743.74 554.88,743.75 556.77,743.76 558.66,743.76 560.54,743.77 562.43,743.77 564.32,743.78 566.21,743.78 568.1,743.79" class="cv" stroke="#067c0c"/>
<polyline points="95.9,490.78 97.79,497.3 99.68,503.64 101.57,509.82 103.46,515.83 105.34,521.68 107.23,527.38 109.12,532.92 111.01,538.32 112.9,543.57 114.79,548.69 116.68,553.66 118.57,558.51 120.45,563.22 122.34,567.81 124.23,572.28 126.12,576.63 128.01,580.86 129.9,584.98 131.79,588.99 133.68,592.9 135.56,596.7 137.45,600.39 139.34,603.99 141.23,607.5 143.12,610.91 145.01,614.23 146.9,617.46 148.79,620.6 150.68,623.66 152.56,626.64 154.45,629.54 156.34,632.37 158.23,635.11 160.12,637.79 162.01,640.39 163.9,642.93 165.79,645.39 167.67,647.79 169.56,650.13 171.45,652.41 173.34,654.62 175.23,656.77 177.12,658.87 179.01,660.91 180.9,662.9 182.78,664.84 184.67,666.72 186.56,668.55 188.45,670.34 190.34,672.07 192.23,673.76 194.12,675.41 196.01,677.01 197.9,678.57 199.78,680.08 201.67,681.56 203.56,683 205.45,684.4 207.34,685.76 209.23,687.08 211.12,688.37 213.01,689.63 214.89,690.85 216.78,692.04 218.67,693.2 220.56,694.33 222.45,695.43 224.34,696.49 226.23,697.53 228.12,698.55 230,699.53 231.89,700.49 233.78,701.42 235.67,702.33 237.56,703.21 239.45,704.08 241.34,704.91 243.23,705.73 245.12,706.52 247,707.29 248.89,708.05 250.78,708.78 252.67,709.49 254.56,710.18 256.45,710.86 258.34,711.52 260.23,712.15 262.11,712.78 264,713.38 265.89,713.97 267.78,714.55 269.67,715.11 271.56,715.65 273.45,716.18 275.34,716.69 277.22,717.2 279.11,717.68 281,718.16 282.89,718.62 284.78,719.07 286.67,719.51 288.56,719.94 290.45,720.35 292.34,720.75 294.22,721.15 296.11,721.53 298,721.9 299.89,722.27 301.78,722.62 303.67,722.96 305.56,723.3 307.45,723.62 309.33,723.94 311.22,724.25 313.11,724.55 315,724.84 316.89,725.13 318.78,725.4 320.67,725.67 322.56,725.93 324.44,726.19 326.33,726.44 328.22,726.68 330.11,726.92 332,727.14 333.89,727.37 335.78,727.58 337.67,727.8 339.56,728 341.44,728.2 343.33,728.4 345.22,728.59 347.11,728.77 349,728.95 350.89,729.13 352.78,729.3 354.67,729.46 356.55,729.62 358.44,729.78 360.33,729.93 362.22,730.08 364.11,730.23 366,730.37 367.89,730.51 369.78,730.64 371.66,730.77 373.55,730.9 375.44,731.02 377.33,731.14 379.22,731.25 381.11,731.37 383,731.48 384.89,731.59 386.78,731.69 388.66,731.79 390.55,731.89 392.44,731.99 394.33,732.08 396.22,732.17 398.11,732.26 400,732.35 401.89,732.44 403.77,732.52 405.66,732.6 407.55,732.67 409.44,732.75 411.33,732.82 413.22,732.9 415.11,732.97 417,733.03 418.88,733.1 420.77,733.16 422.66,733.23 424.55,733.29 426.44,733.35 428.33,733.41 430.22,733.46 432.11,733.52 434,733.57 435.88,733.62 437.77,733.67 439.66,733.72 441.55,733.77 443.44,733.82 445.33,733.86 447.22,733.91 449.11,733.95 450.99,733.99 452.88,734.03 454.77,734.07 456.66,734.11 458.55,734.15 460.44,734.18 462.33,734.22 464.22,734.25 466.1,734.29 467.99,734.32 469.88,734.35 471.77,734.38 473.66,734.41 475.55,734.44 477.44,734.47 479.33,734.5 481.22,734.53 483.1,734.55 484.99,734.58 486.88,734.6 488.77,734.63 490.66,734.65 492.55,734.68 494.44,734.7 496.33,734.72 498.21,734.74 500.1,734.76 501.99,734.78 503.88,734.8 505.77,734.82 507.66,734.84 509.55,734.86 511.44,734.87 513.32,734.89 515.21,734.91 517.1,734.92 518.99,734.94 520.88,734.96 522.77,734.97 524.66,734.99 526.55,735 528.44,735.01 530.32,735.03 532.21,735.04 534.1,735.05 535.99,735.07 537.88,735.08 539.77,735.09 541.66,735.1 543.55,735.11 545.43,735.12 547.32,735.13 549.21,735.14 551.1,735.15 552.99,735.16 554.88,735.17 556.77,735.18 558.66,735.19 560.54,735.2 562.43,735.21 564.32,735.22 566.21,735.22 568.1,735.23" class="cv" stroke="#ee0408"/>
<polyline points="95.9,661.14 96.84,684.98 97.77,699.37 98.71,697.3 99.65,674.35 100.58,672.9 101.52,661.6 102.46,671.31 103.39,660.14 104.33,679.34 105.27,684.06 106.21,712.34 107.14,722.89 108.08,719.91 109.02,692.61 109.95,684.06 110.89,678.37 111.83,682.6 112.76,678.21 113.7,676.76 114.64,721.99 115.57,703.37 116.51,665.25 117.45,685.97 118.38,699.37 119.32,712.59 120.26,701.96 121.19,717.39 122.13,694.35 123.07,682.26 124.01,718.29 124.94,716.04 125.88,691.37 126.82,689.91 127.75,679.11 128.69,677.66 129.63,696.43 130.56,722.89 131.5,702.9 132.44,698.87 133.37,700.33 134.31,721.39 135.25,722.85 136.18,742.52 137.12,745.01 138.06,738.52 138.99,714.11 139.93,704.48 140.87,705.93 141.81,719.94 142.74,721.39 143.68,727.84 144.62,722.85 145.55,729.3 146.49,710.5 147.43,702.68 148.36,721.39 149.3,717.88 150.24,703.58 151.17,726.08 152.11,727.97 153.05,749.11 153.98,708.38 154.92,725.47 155.86,724.58 156.79,748.21 157.73,726.7 158.67,721.39 159.61,722.85 160.54,739.41 161.48,721.66 162.42,714.19 163.35,715.64 164.29,731.4 165.23,716.54 166.16,715.09 167.1,726.54 168.04,747.21 168.97,732.5 169.91,739.82 170.85,721.99 171.78,757.82 172.72,735.27 173.66,731.4 174.59,747.21 175.53,726.6 176.47,728.05 177.41,749.42 178.34,730.28 179.28,725.2 180.22,728.25 181.15,760.9 182.09,765.23 183.03,753.14 183.96,728.9 184.9,747.96 185.84,739.6 186.77,761.02 187.71,732.1 188.65,738.95 189.58,740.41" class="cv" stroke="#0505e6"/>
<polyline points="95.9,567.27 96.84,609.3 97.77,589.53 98.71,606.98 99.65,587.28 100.58,606.55 101.52,616.81 102.46,611 103.39,595.69 104.33,613.26 105.27,597.61 106.21,619.05 107.14,620.51 108.08,619.05 109.02,609.96 109.95,608.5 110.89,609.96 111.83,631.86 112.76,633.32 113.7,624.31 114.64,640.83 115.57,639.37 116.51,621.46 117.45,630.96 118.38,617.71 119.32,634.32 120.26,621.97 121.19,620.51 122.13,662.94 123.07,658.6 124.01,628.72 124.94,651.72 125.88,641.18 126.82,668.54 127.75,671.25 128.69,669.79 129.63,653.2 130.56,654.9 131.5,638.38 132.44,636.92 133.37,641.32 134.31,659.34 135.25,660.8 136.18,669.35 137.12,639.02 138.06,664.35 138.99,648.79 139.93,647.33 140.87,648.79 141.81,675.59 142.74,670.22 143.68,685.96 144.62,677.29 145.55,683.93 146.49,667.39 147.43,676.65 148.36,660.7 149.3,659.24 150.24,660.7 151.17,680.7 152.11,671.14 153.05,697.42 153.98,698.87 154.92,697.42 155.86,673.61 156.79,689.56 157.73,672.15 158.67,704.14 159.61,714.19 160.54,706.83 161.48,672.58 162.42,670.75 163.35,676.98 164.29,708.18 165.23,685.84 166.16,674.35 167.1,657.49 168.04,656.04 168.97,666.78 169.91,706.21 170.85,719.19 171.78,684.36 172.72,688.36 173.66,718.04 174.59,722.39 175.53,720.94 176.47,696.83 177.41,695.37 178.34,685.52 179.28,693.91 180.22,685.52 181.15,684.06 182.09,710.88 183.03,709.43 183.96,692.21 184.9,703.98 185.84,689.67 186.77,712.36 187.71,700.43 188.65,721.39 189.58,729.8" class="cv" stroke="#067c0c"/>
<polyline points="95.9,488.3 96.84,498.5 97.77,502.87 98.71,492.67 99.65,495.59 100.58,486.84 101.52,502.14 102.46,507.97 103.39,513.07 104.33,515.98 105.27,549.49 106.21,548.03 107.14,533.19 108.08,531.74 109.02,533.19 109.95,546.29 110.89,547.75 111.83,546.29 112.76,541.24 113.7,539.79 114.64,529.73 115.57,566.26 116.51,552.26 117.45,547.25 118.38,548.71 119.32,579.33 120.26,585.08 121.19,576.29 122.13,554.25 123.07,565.26 124.01,559.71 124.94,558.26 125.88,565.21 126.82,602.36 127.75,605.8 128.69,547.25 129.63,548.71 130.56,565.81 131.5,567.27 132.44,590.28 133.37,596.33 134.31,614 135.25,592.52 136.18,604.7 137.12,580.98 138.06,599.2 138.99,587.13 139.93,618.28 140.87,611.3 141.81,625.11 142.74,587.23 143.68,572.67 144.62,591.17 145.55,637.05 146.49,658.34 147.43,644.73 148.36,609.08 149.3,603.49 150.24,615 151.17,644.33 152.11,623.37 153.05,621.91 153.98,623.37 154.92,661.7 155.86,664.75 156.79,658.16 157.73,625.11 158.67,647.33 159.61,636.78 160.54,645.87 161.48,635.32 162.42,651.04 163.35,636.78 164.29,656.54 165.23,634.34 166.16,643.1 167.1,628.42 168.04,633.86 168.97,635.32 169.91,633.86 170.85,632.12 171.78,677.36 172.72,641.33 173.66,678.36 174.59,649.33 175.53,679.36 176.47,656.34 177.41,696.97 178.34,662.34 179.28,675.35 180.22,646.83 181.15,671.35 182.09,659.34 183.03,679.36 183.96,662.34 184.9,673.35 185.84,658.24 186.77,677.36 187.71,664.35 188.65,656.84 189.58,672.35" class="cv" stroke="#ee0408"/>
</g>
<text x="95.9" y="884" text-anchor="middle">0</text>
<text x="190.34" y="884" text-anchor="middle">100</text>
<text x="284.78" y="884" text-anchor="middle">200</text>
<text x="379.22" y="884" text-anchor="middle">300</text>
<text x="473.66" y="884" text-anchor="middle">400</text>
<text x="568.1" y="884" text-anchor="middle">500</text>
<text x="86.4" y="861.3" text-anchor="end">0</text>
<text x="86.4" y="788.46" text-anchor="end">50</text>
<text x="86.4" y="715.62" text-anchor="end">100</text>
<text x="86.4" y="642.78" text-anchor="end">150</text>
<text x="86.4" y="569.94" text-anchor="end">200</text>
<text x="86.4" y="497.1" text-anchor="end">250</text>
<text x="332" y="916.6" text-anchor="middle">x</text>
<text transform="translate(26.4 670.4) rotate(-90)" text-anchor="middle">y</text>
</g>
<g>
<line x1="788.5" y1="852.5" x2="788.5" y2="488.3" class="gr"/>
<line x1="883" y1="852.5" x2="883" y2="488.3" class="gr"/>
<line x1="977.5" y1="852.5" x2="977.5" y2="488.3" class="gr"/>
<line x1="1072" y1="852.5" x2="1072" y2="488.3" class="gr"/>
<line x1="694" y1="779.66" x2="1166.5" y2="779.66" class="gr"/>
<line x1="694" y1="706.82" x2="1166.5" y2="706.82" class="gr"/>
<line x1="694" y1="633.98" x2="1166.5" y2="633.98" class="gr"/>
<line x1="694" y1="561.14" x2="1166.5" y2="561.14" class="gr"/>
<rect x="694" y="488.3" width="472.5" height="364.2" class="ax"/>
<path d="M788.5 852.5v-4.8M788.5 488.3v4.8" class="tk"/>
<path d="M883 852.5v-4.8M883 488.3v4.8" class="tk"/>
<path d="M977.5 852.5v-4.8M977.5 488.3v4.8" class="tk"/>
<path d="M1072 852.5v-4.8M1072 488.3v4.8" class="tk"/>
<path d="M694 779.66h4.8M1166.5 779.66h-4.8" class="tk"/>
<path d="M694 706.82h4.8M1166.5 706.82h-4.8" class="tk"/>
<path d="M694 633.98h4.8M1166.5 633.98h-4.8" class="tk"/>
<path d="M694 561.14h4.8M1166.5 561.14h-4.8" class="tk"/>
<g clip-path="url(#cpd)">
<polyline points="694,680.6 695.89,682.5 697.78,684.37 699.67,686.2 701.56,687.99 703.45,689.75 705.34,691.46 707.23,693.14 709.12,694.79 711.01,696.4 712.9,697.98 714.79,699.53 716.68,701.04 718.57,702.52 720.46,703.98 722.35,705.4 724.24,706.79 726.13,708.15 728.02,709.49 729.91,710.79 731.8,712.07 733.69,713.33 735.58,714.55 737.47,715.76 739.36,716.93 741.25,718.08 743.14,719.21 745.03,720.32 746.92,721.4 748.81,722.46 750.7,723.5 752.59,724.51 754.48,725.51 756.37,726.48 758.26,727.43 760.15,728.37 762.04,729.28 763.93,730.18 765.82,731.05 767.71,731.91 769.6,732.75 771.49,733.58 773.38,734.38 775.27,735.17 777.16,735.95 779.05,736.7 780.94,737.44 782.83,738.17 784.72,738.88 786.61,739.58 788.5,740.26 790.39,740.93 792.28,741.58 794.17,742.22 796.06,742.85 797.95,743.46 799.84,744.06 801.73,744.65 803.62,745.23 805.51,745.79 807.4,746.34 809.29,746.88 811.18,747.41 813.07,747.93 814.96,748.44 816.85,748.94 818.74,749.42 820.63,749.9 822.52,750.37 824.41,750.83 826.3,751.27 828.19,751.71 830.08,752.14 831.97,752.56 833.86,752.97 835.75,753.38 837.64,753.77 839.53,754.16 841.42,754.54 843.31,754.91 845.2,755.27 847.09,755.63 848.98,755.97 850.87,756.32 852.76,756.65 854.65,756.98 856.54,757.3 858.43,757.61 860.32,757.92 862.21,758.22 864.1,758.51 865.99,758.8 867.88,759.08 869.77,759.36 871.66,759.63 873.55,759.89 875.44,760.15 877.33,760.41 879.22,760.66 881.11,760.9 883,761.14 884.89,761.37 886.78,761.6 888.67,761.82 890.56,762.04 892.45,762.26 894.34,762.47 896.23,762.67 898.12,762.88 900.01,763.07 901.9,763.27 903.79,763.46 905.68,763.64 907.57,763.82 909.46,764 911.35,764.17 913.24,764.34 915.13,764.51 917.02,764.67 918.91,764.83 920.8,764.99 922.69,765.15 924.58,765.3 926.47,765.44 928.36,765.59 930.25,765.73 932.14,765.87 934.03,766 935.92,766.13 937.81,766.26 939.7,766.39 941.59,766.51 943.48,766.64 945.37,766.76 947.26,766.87 949.15,766.99 951.04,767.1 952.93,767.21 954.82,767.32 956.71,767.42 958.6,767.52 960.49,767.62 962.38,767.72 964.27,767.82 966.16,767.91 968.05,768.01 969.94,768.1 971.83,768.19 973.72,768.27 975.61,768.36 977.5,768.44 979.39,768.52 981.28,768.6 983.17,768.68 985.06,768.76 986.95,768.84 988.84,768.91 990.73,768.98 992.62,769.05 994.51,769.12 996.4,769.19 998.29,769.25 1000.18,769.32 1002.07,769.38 1003.96,769.44 1005.85,769.51 1007.74,769.57 1009.63,769.62 1011.52,769.68 1013.41,769.74 1015.3,769.79 1017.19,769.85 1019.08,769.9 1020.97,769.95 1022.86,770 1024.75,770.05 1026.64,770.1 1028.53,770.15 1030.42,770.19 1032.31,770.24 1034.2,770.28 1036.09,770.32 1037.98,770.37 1039.87,770.41 1041.76,770.45 1043.65,770.49 1045.54,770.53 1047.43,770.57 1049.32,770.61 1051.21,770.64 1053.1,770.68 1054.99,770.71 1056.88,770.75 1058.77,770.78 1060.66,770.81 1062.55,770.85 1064.44,770.88 1066.33,770.91 1068.22,770.94 1070.11,770.97 1072,771 1073.89,771.03 1075.78,771.06 1077.67,771.08 1079.56,771.11 1081.45,771.14 1083.34,771.16 1085.23,771.19 1087.12,771.21 1089.01,771.24 1090.9,771.26 1092.79,771.28 1094.68,771.31 1096.57,771.33 1098.46,771.35 1100.35,771.37 1102.24,771.39 1104.13,771.41 1106.02,771.43 1107.91,771.45 1109.8,771.47 1111.69,771.49 1113.58,771.51 1115.47,771.53 1117.36,771.54 1119.25,771.56 1121.14,771.58 1123.03,771.6 1124.92,771.61 1126.81,771.63 1128.7,771.64 1130.59,771.66 1132.48,771.67 1134.37,771.69 1136.26,771.7 1138.15,771.72 1140.04,771.73 1141.93,771.74 1143.82,771.76 1145.71,771.77 1147.6,771.78 1149.49,771.79 1151.38,771.81 1153.27,771.82 1155.16,771.83 1157.05,771.84 1158.94,771.85 1160.83,771.86 1162.72,771.87 1164.61,771.88 1166.5,771.89" class="cv" stroke="#0505e6"/>
<polyline points="694,590.28 695.89,594.06 697.78,597.77 699.67,601.39 701.56,604.95 703.45,608.43 705.34,611.83 707.23,615.17 709.12,618.44 711.01,621.64 712.9,624.77 714.79,627.84 716.68,630.84 718.57,633.78 720.46,636.66 722.35,639.48 724.24,642.24 726.13,644.95 728.02,647.6 729.91,650.19 731.8,652.73 733.69,655.21 735.58,657.65 737.47,660.03 739.36,662.37 741.25,664.65 743.14,666.89 745.03,669.08 746.92,671.23 748.81,673.33 750.7,675.39 752.59,677.41 754.48,679.38 756.37,681.31 758.26,683.2 760.15,685.06 762.04,686.87 763.93,688.65 765.82,690.39 767.71,692.09 769.6,693.76 771.49,695.4 773.38,696.99 775.27,698.56 777.16,700.1 779.05,701.6 780.94,703.07 782.83,704.51 784.72,705.92 786.61,707.3 788.5,708.65 790.39,709.98 792.28,711.27 794.17,712.54 796.06,713.79 797.95,715 799.84,716.2 801.73,717.36 803.62,718.51 805.51,719.63 807.4,720.72 809.29,721.8 811.18,722.85 813.07,723.88 814.96,724.88 816.85,725.87 818.74,726.84 820.63,727.78 822.52,728.71 824.41,729.62 826.3,730.51 828.19,731.38 830.08,732.23 831.97,733.06 833.86,733.88 835.75,734.68 837.64,735.46 839.53,736.23 841.42,736.98 843.31,737.72 845.2,738.44 847.09,739.14 848.98,739.83 850.87,740.51 852.76,741.17 854.65,741.82 856.54,742.46 858.43,743.08 860.32,743.69 862.21,744.28 864.1,744.87 865.99,745.44 867.88,746 869.77,746.55 871.66,747.08 873.55,747.61 875.44,748.12 877.33,748.63 879.22,749.12 881.11,749.6 883,750.08 884.89,750.54 886.78,750.99 888.67,751.44 890.56,751.87 892.45,752.3 894.34,752.72 896.23,753.13 898.12,753.53 900.01,753.92 901.9,754.3 903.79,754.68 905.68,755.04 907.57,755.4 909.46,755.76 911.35,756.1 913.24,756.44 915.13,756.77 917.02,757.1 918.91,757.41 920.8,757.72 922.69,758.03 924.58,758.33 926.47,758.62 928.36,758.9 930.25,759.18 932.14,759.46 934.03,759.73 935.92,759.99 937.81,760.25 939.7,760.5 941.59,760.75 943.48,760.99 945.37,761.22 947.26,761.46 949.15,761.68 951.04,761.91 952.93,762.12 954.82,762.34 956.71,762.54 958.6,762.75 960.49,762.95 962.38,763.15 964.27,763.34 966.16,763.52 968.05,763.71 969.94,763.89 971.83,764.07 973.72,764.24 975.61,764.41 977.5,764.57 979.39,764.73 981.28,764.89 983.17,765.05 985.06,765.2 986.95,765.35 988.84,765.5 990.73,765.64 992.62,765.78 994.51,765.92 996.4,766.05 998.29,766.18 1000.18,766.31 1002.07,766.44 1003.96,766.56 1005.85,766.68 1007.74,766.8 1009.63,766.92 1011.52,767.03 1013.41,767.14 1015.3,767.25 1017.19,767.36 1019.08,767.46 1020.97,767.56 1022.86,767.66 1024.75,767.76 1026.64,767.86 1028.53,767.95 1030.42,768.04 1032.31,768.13 1034.2,768.22 1036.09,768.31 1037.98,768.39 1039.87,768.47 1041.76,768.55 1043.65,768.63 1045.54,768.71 1047.43,768.79 1049.32,768.86 1051.21,768.94 1053.1,769.01 1054.99,769.08 1056.88,769.15 1058.77,769.21 1060.66,769.28 1062.55,769.34 1064.44,769.41 1066.33,769.47 1068.22,769.53 1070.11,769.59 1072,769.65 1073.89,769.7 1075.78,769.76 1077.67,769.81 1079.56,769.87 1081.45,769.92 1083.34,769.97 1085.23,770.02 1087.12,770.07 1089.01,770.12 1090.9,770.16 1092.79,770.21 1094.68,770.25 1096.57,770.3 1098.46,770.34 1100.35,770.38 1102.24,770.42 1104.13,770.47 1106.02,770.5 1107.91,770.54 1109.8,770.58 1111.69,770.62 1113.58,770.66 1115.47,770.69 1117.36,770.73 1119.25,770.76 1121.14,770.79 1123.03,770.83 1124.92,770.86 1126.81,770.89 1128.7,770.92 1130.59,770.95 1132.48,770.98 1134.37,771.01 1136.26,771.04 1138.15,771.07 1140.04,771.09 1141.93,771.12 1143.82,771.15 1145.71,771.17 1147.6,771.2 1149.49,771.22 1151.38,771.25 1153.27,771.27 1155.16,771.29 1157.05,771.31 1158.94,771.34 1160.83,771.36 1162.72,771.38 1164.61,771.4 1166.5,771.42" class="cv" stroke="#067c0c"/>
<polyline points="694,495.58 695.89,501.34 697.78,506.97 699.67,512.48 701.56,517.88 703.45,523.17 705.34,528.35 707.23,533.42 709.12,538.39 711.01,543.25 712.9,548.01 714.79,552.68 716.68,557.24 718.57,561.71 720.46,566.09 722.35,570.38 724.24,574.57 726.13,578.68 728.02,582.71 729.91,586.65 731.8,590.51 733.69,594.29 735.58,597.99 737.47,601.61 739.36,605.16 741.25,608.64 743.14,612.04 745.03,615.37 746.92,618.64 748.81,621.83 750.7,624.96 752.59,628.02 754.48,631.02 756.37,633.96 758.26,636.84 760.15,639.65 762.04,642.41 763.93,645.11 765.82,647.76 767.71,650.35 769.6,652.88 771.49,655.37 773.38,657.8 775.27,660.18 777.16,662.51 779.05,664.79 780.94,667.03 782.83,669.22 784.72,671.36 786.61,673.46 788.5,675.52 790.39,677.53 792.28,679.5 794.17,681.43 796.06,683.32 797.95,685.17 799.84,686.98 801.73,688.76 803.62,690.5 805.51,692.2 807.4,693.86 809.29,695.49 811.18,697.09 813.07,698.66 814.96,700.19 816.85,701.69 818.74,703.16 820.63,704.6 822.52,706 824.41,707.38 826.3,708.73 828.19,710.06 830.08,711.35 831.97,712.62 833.86,713.86 835.75,715.08 837.64,716.27 839.53,717.43 841.42,718.58 843.31,719.69 845.2,720.79 847.09,721.86 848.98,722.91 850.87,723.94 852.76,724.95 854.65,725.93 856.54,726.9 858.43,727.84 860.32,728.77 862.21,729.67 864.1,730.56 865.99,731.43 867.88,732.28 869.77,733.11 871.66,733.93 873.55,734.73 875.44,735.51 877.33,736.28 879.22,737.03 881.11,737.76 883,738.48 884.89,739.19 886.78,739.88 888.67,740.55 890.56,741.21 892.45,741.86 894.34,742.49 896.23,743.11 898.12,743.72 900.01,744.32 901.9,744.9 903.79,745.47 905.68,746.03 907.57,746.58 909.46,747.11 911.35,747.64 913.24,748.15 915.13,748.66 917.02,749.15 918.91,749.63 920.8,750.11 922.69,750.57 924.58,751.02 926.47,751.47 928.36,751.9 930.25,752.33 932.14,752.74 934.03,753.15 935.92,753.55 937.81,753.94 939.7,754.32 941.59,754.7 943.48,755.07 945.37,755.43 947.26,755.78 949.15,756.12 951.04,756.46 952.93,756.79 954.82,757.12 956.71,757.43 958.6,757.74 960.49,758.05 962.38,758.35 964.27,758.64 966.16,758.92 968.05,759.2 969.94,759.48 971.83,759.74 973.72,760.01 975.61,760.26 977.5,760.51 979.39,760.76 981.28,761 983.17,761.24 985.06,761.47 986.95,761.7 988.84,761.92 990.73,762.14 992.62,762.35 994.51,762.56 996.4,762.76 998.29,762.96 1000.18,763.16 1002.07,763.35 1003.96,763.54 1005.85,763.72 1007.74,763.9 1009.63,764.08 1011.52,764.25 1013.41,764.42 1015.3,764.58 1017.19,764.74 1019.08,764.9 1020.97,765.06 1022.86,765.21 1024.75,765.36 1026.64,765.51 1028.53,765.65 1030.42,765.79 1032.31,765.92 1034.2,766.06 1036.09,766.19 1037.98,766.32 1039.87,766.44 1041.76,766.57 1043.65,766.69 1045.54,766.81 1047.43,766.92 1049.32,767.04 1051.21,767.15 1053.1,767.26 1054.99,767.36 1056.88,767.47 1058.77,767.57 1060.66,767.67 1062.55,767.77 1064.44,767.86 1066.33,767.96 1068.22,768.05 1070.11,768.14 1072,768.23 1073.89,768.31 1075.78,768.4 1077.67,768.48 1079.56,768.56 1081.45,768.64 1083.34,768.72 1085.23,768.79 1087.12,768.87 1089.01,768.94 1090.9,769.01 1092.79,769.08 1094.68,769.15 1096.57,769.22 1098.46,769.28 1100.35,769.35 1102.24,769.41 1104.13,769.47 1106.02,769.53 1107.91,769.59 1109.8,769.65 1111.69,769.71 1113.58,769.76 1115.47,769.82 1117.36,769.87 1119.25,769.92 1121.14,769.97 1123.03,770.02 1124.92,770.07 1126.81,770.12 1128.7,770.17 1130.59,770.21 1132.48,770.26 1134.37,770.3 1136.26,770.34 1138.15,770.39 1140.04,770.43 1141.93,770.47 1143.82,770.51 1145.71,770.55 1147.6,770.58 1149.49,770.62 1151.38,770.66 1153.27,770.69 1155.16,770.73 1157.05,770.76 1158.94,770.8 1160.83,770.83 1162.72,770.86 1164.61,770.89 1166.5,770.92" class="cv" stroke="#ee0408"/>
<polyline points="694,661.14 694.94,684.98 695.87,699.37 696.81,697.3 697.75,674.35 698.69,672.9 699.62,661.6 700.56,671.31 701.5,660.14 702.44,679.34 703.37,684.06 704.31,712.34 705.25,722.89 706.19,719.91 707.12,692.61 708.06,684.06 709,678.37 709.94,682.6 710.87,678.21 711.81,676.76 712.75,721.99 713.69,703.37 714.62,665.25 715.56,685.97 716.5,699.37 717.44,712.59 718.37,701.96 719.31,717.39 720.25,694.35 721.19,682.26 722.12,718.29 723.06,716.04 724,691.37 724.94,689.91 725.87,679.11 726.81,677.66 727.75,696.43 728.69,722.89 729.62,702.9 730.56,698.87 731.5,700.33 732.44,721.39 733.37,722.85 734.31,742.52 735.25,745.01 736.18,738.52 737.12,714.11 738.06,704.48 739,705.93 739.93,719.94 740.87,721.39 741.81,727.84 742.75,722.85 743.68,729.3 744.62,710.5 745.56,702.68 746.5,721.39 747.43,717.88 748.37,703.58 749.31,726.08 750.25,727.97 751.18,749.11 752.12,708.38 753.06,725.47 754,724.58 754.93,748.21 755.87,726.7 756.81,721.39 757.75,722.85 758.68,739.41 759.62,721.66 760.56,714.19 761.5,715.64 762.43,731.4 763.37,716.54 764.31,715.09 765.25,726.54 766.18,747.21 767.12,732.5 768.06,739.82 769,721.99 769.93,757.82 770.87,735.27 771.81,731.4 772.74,747.21 773.68,726.6 774.62,728.05 775.56,749.42 776.49,730.28 777.43,725.2 778.37,728.25 779.31,760.9 780.24,765.23 781.18,753.14 782.12,728.9 783.06,747.96 783.99,739.6 784.93,761.02 785.87,732.1 786.81,738.95 787.74,740.41" class="cv" stroke="#0505e6"/>
<polyline points="694,567.27 694.94,609.3 695.87,589.53 696.81,606.98 697.75,587.28 698.69,606.55 699.62,616.81 700.56,611 701.5,595.69 702.44,613.26 703.37,597.61 704.31,619.05 705.25,620.51 706.19,619.05 707.12,609.96 708.06,608.5 709,609.96 709.94,631.86 710.87,633.32 711.81,624.31 712.75,640.83 713.69,639.37 714.62,621.46 715.56,630.96 716.5,617.71 717.44,634.32 718.37,621.97 719.31,620.51 720.25,662.94 721.19,658.6 722.12,628.72 723.06,651.72 724,641.18 724.94,668.54 725.87,671.25 726.81,669.79 727.75,653.2 728.69,654.9 729.62,638.38 730.56,636.92 731.5,641.32 732.44,659.34 733.37,660.8 734.31,669.35 735.25,639.02 736.18,664.35 737.12,648.79 738.06,647.33 739,648.79 739.93,675.59 740.87,670.22 741.81,685.96 742.75,677.29 743.68,683.93 744.62,667.39 745.56,676.65 746.5,660.7 747.43,659.24 748.37,660.7 749.31,680.7 750.25,671.14 751.18,697.42 752.12,698.87 753.06,697.42 754,673.61 754.93,689.56 755.87,672.15 756.81,704.14 757.75,714.19 758.68,706.83 759.62,672.58 760.56,670.75 761.5,676.98 762.43,708.18 763.37,685.84 764.31,674.35 765.25,657.49 766.18,656.04 767.12,666.78 768.06,706.21 769,719.19 769.93,684.36 770.87,688.36 771.81,718.04 772.74,722.39 773.68,720.94 774.62,696.83 775.56,695.37 776.49,685.52 777.43,693.91 778.37,685.52 779.31,684.06 780.24,710.88 781.18,709.43 782.12,692.21 783.06,703.98 783.99,689.67 784.93,712.36 785.87,700.43 786.81,721.39 787.74,729.8" class="cv" stroke="#067c0c"/>
<polyline points="694,488.3 694.94,498.5 695.87,502.87 696.81,492.67 697.75,495.59 698.69,486.84 699.62,502.14 700.56,507.97 701.5,513.07 702.44,515.98 703.37,549.49 704.31,548.03 705.25,533.19 706.19,531.74 707.12,533.19 708.06,546.29 709,547.75 709.94,546.29 710.87,541.24 711.81,539.79 712.75,529.73 713.69,566.26 714.62,552.26 715.56,547.25 716.5,548.71 717.44,579.33 718.37,585.08 719.31,576.29 720.25,554.25 721.19,565.26 722.12,559.71 723.06,558.26 724,565.21 724.94,602.36 725.87,605.8 726.81,547.25 727.75,548.71 728.69,565.81 729.62,567.27 730.56,590.28 731.5,596.33 732.44,614 733.37,592.52 734.31,604.7 735.25,580.98 736.18,599.2 737.12,587.13 738.06,618.28 739,611.3 739.93,625.11 740.87,587.23 741.81,572.67 742.75,591.17 743.68,637.05 744.62,658.34 745.56,644.73 746.5,609.08 747.43,603.49 748.37,615 749.31,644.33 750.25,623.37 751.18,621.91 752.12,623.37 753.06,661.7 754,664.75 754.93,658.16 755.87,625.11 756.81,647.33 757.75,636.78 758.68,645.87 759.62,635.32 760.56,651.04 761.5,636.78 762.43,656.54 763.37,634.34 764.31,643.1 765.25,628.42 766.18,633.86 767.12,635.32 768.06,633.86 769,632.12 769.93,677.36 770.87,641.33 771.81,678.36 772.74,649.33 773.68,679.36 774.62,656.34 775.56,696.97 776.49,662.34 777.43,675.35 778.37,646.83 779.31,671.35 780.24,659.34 781.18,679.36 782.12,662.34 783.06,673.35 783.99,658.24 784.93,677.36 785.87,664.35 786.81,656.84 787.74,672.35" class="cv" stroke="#ee0408"/>
</g>
<text x="694" y="884" text-anchor="middle">0</text>
<text x="788.5" y="884" text-anchor="middle">100</text>
<text x="883" y="884" text-anchor="middle">200</text>
<text x="977.5" y="884" text-anchor="middle">300</text>
<text x="1072" y="884" text-anchor="middle">400</text>
<text x="1166.5" y="884" text-anchor="middle">500</text>
<text x="684.5" y="861.3" text-anchor="end">0</text>
<text x="684.5" y="788.46" text-anchor="end">50</text>
<text x="684.5" y="715.62" text-anchor="end">100</text>
<text x="684.5" y="642.78" text-anchor="end">150</text>
<text x="684.5" y="569.94" text-anchor="end">200</text>
<text x="684.5" y="497.1" text-anchor="end">250</text>
<text x="930.25" y="916.6" text-anchor="middle">x</text>
<text transform="translate(624.5 670.4) rotate(-90)" text-anchor="middle">y</text>
</g>
<text x="131.6" y="63.6">(a)</text>
<text x="723.6" y="63.6">(b)</text>
<text x="132.0" y="522.9">(c)</text>
<text x="730.0" y="522.9">(d)</text>
<rect x="350.8" y="36.4" width="207.2" height="134" class="lg"/>
<line x1="368" y1="61.6" x2="458.6" y2="61.6" class="cv" stroke="#0505e6" stroke-linecap="butt"/>
<text x="468.6" y="65.4">g<tspan dy="12.3" font-size="16.2">1</tspan><tspan dy="-12.3" dx="0.8">=70</tspan></text>
<line x1="368" y1="103.4" x2="458.6" y2="103.4" class="cv" stroke="#067c0c" stroke-linecap="butt"/>
<text x="468.6" y="107.2">g<tspan dy="12.3" font-size="16.2">2</tspan><tspan dy="-12.3" dx="0.8">=130</tspan></text>
<line x1="368" y1="145" x2="458.6" y2="145" class="cv" stroke="#ee0408" stroke-linecap="butt"/>
<text x="468.6" y="148.8">g<tspan dy="12.3" font-size="16.2">3</tspan><tspan dy="-12.3" dx="0.8">=190</tspan></text>
<rect x="781.7" y="36.4" width="375.2" height="133.9" class="lg"/>
<line x1="791.9" y1="61.75" x2="837.9" y2="61.75" class="cv" stroke="#0505e6" stroke-linecap="butt"/>
<text x="847.5" y="65.55">g<tspan dy="12.3" font-size="16.2">1</tspan><tspan dy="-12.3" dx="0.8">=92.3</tspan></text>
<text x="937.1" y="65.55">k<tspan dy="12.3" font-size="16.2">1</tspan><tspan dy="-12.3" dx="0.8">=-0.0066</tspan></text>
<text x="1067.7" y="65.55">c<tspan dy="12.3" font-size="16.2">1</tspan><tspan dy="-12.3" dx="0.8">=25.9</tspan></text>
<line x1="791.9" y1="103.2" x2="837.9" y2="103.2" class="cv" stroke="#067c0c" stroke-linecap="butt"/>
<text x="847.5" y="107">g<tspan dy="12.3" font-size="16.2">2</tspan><tspan dy="-12.3" dx="0.8">=109</tspan></text>
<text x="937.1" y="107">k<tspan dy="12.3" font-size="16.2">2</tspan><tspan dy="-12.3" dx="0.8">=-0.0129</tspan></text>
<text x="1067.7" y="107">c<tspan dy="12.3" font-size="16.2">2</tspan><tspan dy="-12.3" dx="0.8">=71.2</tspan></text>
<line x1="791.9" y1="144.9" x2="837.9" y2="144.9" class="cv" stroke="#ee0408" stroke-linecap="butt"/>
<text x="847.5" y="148.7">g<tspan dy="12.3" font-size="16.2">3</tspan><tspan dy="-12.3" dx="0.8">=162</tspan></text>
<text x="937.1" y="148.7">k<tspan dy="12.3" font-size="16.2">3</tspan><tspan dy="-12.3" dx="0.8">=-0.0149</tspan></text>
<text x="1067.7" y="148.7">c<tspan dy="12.3" font-size="16.2">3</tspan><tspan dy="-12.3" dx="0.8">=87.6</tspan></text>
<rect x="253.3" y="496.1" width="304.9" height="133.5" class="lg"/>
<line x1="271.1" y1="521.2" x2="361.3" y2="521.2" class="cv" stroke="#0505e6" stroke-linecap="butt"/>
<text x="371.8" y="525">g<tspan dy="12.3" font-size="16.2">1</tspan><tspan dy="-12.3" dx="0.8">=59.7 c</tspan><tspan dy="12.3" font-size="16.2">1</tspan><tspan dy="-12.3" dx="0.8">=61.1</tspan></text>
<line x1="271.1" y1="562.9" x2="361.3" y2="562.9" class="cv" stroke="#067c0c" stroke-linecap="butt"/>
<text x="371.8" y="566.7">g<tspan dy="12.3" font-size="16.2">2</tspan><tspan dy="-12.3" dx="0.8">=106 c</tspan><tspan dy="12.3" font-size="16.2">2</tspan><tspan dy="-12.3" dx="0.8">=74.5</tspan></text>
<line x1="271.1" y1="604.5" x2="361.3" y2="604.5" class="cv" stroke="#ee0408" stroke-linecap="butt"/>
<text x="371.8" y="608.3">g<tspan dy="12.3" font-size="16.2">3</tspan><tspan dy="-12.3" dx="0.8">=168 c</tspan><tspan dy="12.3" font-size="16.2">3</tspan><tspan dy="-12.3" dx="0.8">=80.3</tspan></text>
<rect x="948" y="496.1" width="208.6" height="133.5" class="lg"/>
<line x1="966.4" y1="521.4" x2="1056.4" y2="521.4" class="cv" stroke="#0505e6" stroke-linecap="butt"/>
<text x="1066.6" y="525.2">g<tspan dy="12.3" font-size="16.2">1</tspan><tspan dy="-12.3" dx="0.8">=63</tspan></text>
<line x1="966.4" y1="563" x2="1056.4" y2="563" class="cv" stroke="#067c0c" stroke-linecap="butt"/>
<text x="1066.6" y="566.8">g<tspan dy="12.3" font-size="16.2">2</tspan><tspan dy="-12.3" dx="0.8">=125</tspan></text>
<line x1="966.4" y1="604.4" x2="1056.4" y2="604.4" class="cv" stroke="#ee0408" stroke-linecap="butt"/>
<text x="1066.6" y="608.2">g<tspan dy="12.3" font-size="16.2">3</tspan><tspan dy="-12.3" dx="0.8">=190</tspan></text>
</svg></body></html>
